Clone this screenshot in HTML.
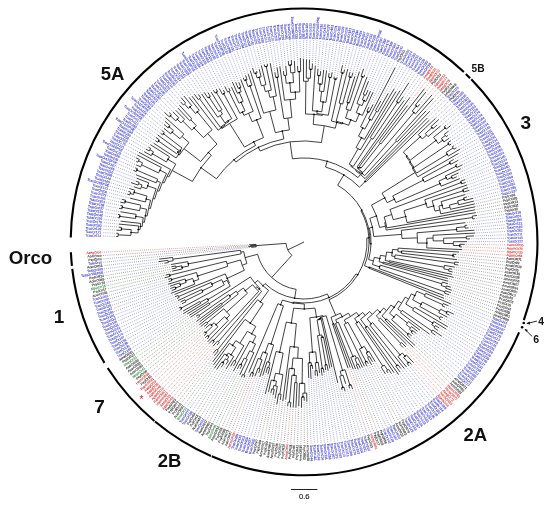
<!DOCTYPE html><html><head><meta charset="utf-8"><style>html,body{margin:0;padding:0;background:#fff;width:550px;height:508px;overflow:hidden}svg{display:block}</style></head><body><svg width="550" height="508" viewBox="0 0 550 508"><path d="M247.57 244.86L102.26 252.22M202.89 327.63L149.85 372.54M202.42 334.03L154.3 377.62M202.84 336.78L156.59 380.11M204.1 338.78L158.92 382.55M206.05 340.12L161.29 384.96M206.51 342.99L163.7 387.33M208.09 344.72L166.15 389.65M211.25 344.73L168.64 391.94M211.92 347.48L171.16 394.18M216.05 346.22L173.72 396.38M254.44 377.84L234.77 431.77M290.23 408.93L287.39 443.32M348.53 369.64L370.54 432.73M412.5 365.65L437.23 393.84M414.55 363.82L439.75 391.59M404.17 348.74L442.23 389.3M406.9 348.04L444.67 386.96M407.63 345.28L447.08 384.59M460.6 252.16L505.58 255.07M463.74 249.68L505.77 251.7M463.42 247L505.9 248.33M466.21 244.37L505.98 244.95M434.3 97.19L439.12 91.84M432.98 93.75L436.59 89.6M420.86 103.06L434.02 87.41M425.38 87.47L428.78 83.15M408.49 104.3L426.11 81.08M410.92 96.09L423.4 79.06" stroke="#e06a6a" stroke-width="0.8" stroke-dasharray="0.8 1.3" fill="none"/><path d="M248.63 245.73L102.46 255.59M246.7 246.83L102.71 258.96M157.64 259.28L103.39 265.68M169.41 264.78L104.83 275.71M169.81 267.02L105.42 279.03M170.25 269.26L106.07 282.35M164.21 275.4L107.53 288.94M163.08 278.17L108.34 292.22M187.88 316.25L133.82 350.82M189.14 318.18L135.66 353.65M196.09 318.89L139.49 359.22M195.11 322.36L141.47 361.95M198.46 322.65L143.5 364.65M199.49 327.55L147.69 369.95M204.33 329.31L152.05 375.1M212.25 354.49L176.32 398.53M213.46 356.87L178.96 400.65M211.85 363.02L181.63 402.71M212.5 366.43L184.33 404.74M225.13 365.82L195.48 412.37M225.16 370.46L198.34 414.16M229.7 367.74L201.23 415.9M232.55 372.69L207.1 419.24M236.68 370.19L210.08 420.84M239.43 370.11L213.08 422.38M240.73 378.72L219.16 425.32M243.32 379.09L222.24 426.71M248.18 374.04L225.34 428.06M249.07 378.23L228.46 429.34M251.72 378.19L231.61 430.58M268.06 393.59L257.4 438.55M270.49 394.68L260.69 439.3M272.74 396.74L264 440M274.8 400.1L267.31 440.64M276.54 406L270.64 441.23M280.04 401.42L273.98 441.76M282.57 402.81L277.32 442.23M285.49 401.15L280.67 442.65M287.53 407.79L284.03 443.01M293.02 409.14L290.76 443.57M295.82 409.3L294.13 443.76M298.67 407.77L297.51 443.9M301.42 409.33L300.88 443.98M304.21 402.33L304.26 444M306.9 403.24L307.64 443.97M353.07 390.61L367.34 433.81M350.73 369.08L373.72 431.59M353.77 370.65L376.88 430.39M356.15 370.4L380.02 429.15M367.77 367.71L395.38 422.15M369.05 365.09L398.38 420.6M372.31 366.19L401.35 418.99M414.52 348.52L449.44 382.18M416.29 346.66L451.77 379.73M411.67 339.04L454.05 377.24M445.17 296.06L492.64 314.24M450.62 295.35L493.82 311.07M452.31 293.18L494.95 307.89M453.29 290.74L496.03 304.69M452.33 287.7L497.05 301.47M449.38 284.14L498.01 298.23M449.7 281.6L498.93 294.98M449.28 278.89L499.79 291.72M455.04 277.68L500.59 288.44M453.64 274.72L501.34 285.14M454.15 272.21L502.03 281.84M453.8 269.54L502.67 278.52M456.32 267.38L503.25 275.2M459.97 265.31L503.78 271.86M460.37 262.7L504.25 268.52M458.47 259.83L504.67 265.16M456.42 257.02L505.03 261.81M457.78 254.56L505.33 258.44M478.45 215.17L503.65 211.3M477.32 212.37L503.11 207.96M476.66 209.51L502.51 204.64M476.88 206.46L501.86 201.33M476.27 203.57L501.15 198.02M430.56 118.98L448.85 101.21M430.9 110.12L444.06 96.44M427.03 109.79L441.61 94.12M426.76 90.99L431.42 85.26M396 66.11L397.62 63.01" stroke="#777777" stroke-width="0.8" stroke-dasharray="0.8 1.3" fill="none"/><path d="M249.78 247.48L103.02 262.32M156.96 261.85L103.82 269.03M162.95 263.45L104.3 272.37M166.59 279.73L109.21 295.48M167.24 282.02L110.13 298.73M166.45 284.76L111.11 301.97M168.65 286.57L112.14 305.18M168.83 289.03L113.22 308.38M170.22 291.07L114.36 311.56M169.4 293.94L115.54 314.72M173.12 295.04L116.79 317.86M173.49 297.45L118.08 320.98M175.54 299.13L119.43 324.08M176.56 301.24L120.83 327.15M179.12 302.61L122.28 330.2M180.48 304.52L123.78 333.23M177.42 308.76L125.33 336.23M178.21 311.05L126.93 339.21M181.72 311.81L128.58 342.15M181.89 314.45L130.27 345.07M185.94 314.74L132.02 347.96M215.79 370.77L189.84 408.65M220.37 368.57L192.64 410.53M232.7 367.39L204.15 417.6M258.15 374.5L237.95 432.9M259.34 378.4L241.15 433.97M262.26 377.09L244.37 435M265.53 374.31L247.6 435.97M267.48 375.9L250.86 436.88M264.91 395.39L254.12 437.74M308.78 379.58L311.01 443.88M311.14 380.66L314.39 443.73M312.77 370.47L317.76 443.53M315.5 377.11L321.13 443.27M317.85 377.89L324.49 442.96M319.77 374.63L327.84 442.59M322.37 377.2L331.2 442.16M324.23 374.28L334.54 441.68M326.02 371.45L337.87 441.14M328.43 372.39L341.2 440.55M330.18 369.91L344.51 439.9M332.14 368.64L347.81 439.19M338.2 384.63L351.1 438.43M342.49 391.45L354.38 437.62M345.56 392.88L357.65 436.75M346.05 385.27L360.89 435.82M350.11 389.87L364.13 434.84M358.86 370.84L383.14 427.85M360.92 369.72L386.23 426.5M363.14 368.94L389.31 425.1M365.13 367.69L392.36 423.65M373.23 363.03L404.3 417.34M375.87 362.92L407.21 415.64M386.27 375.28L410.1 413.89M388.64 374.12L412.96 412.09M392.31 374.91L415.79 410.25M394.89 373.95L418.59 408.35M399.57 375.89L421.35 406.41M401.12 373.36L424.09 404.43M401.76 369.71L426.78 402.4M405.15 369.66L429.45 400.32M407.42 368.13L432.08 398.2M410.19 367.18L434.67 396.04M412.94 336.94L456.29 374.71M414.51 335.1L458.48 372.15M417.59 334.49L460.64 369.55M418.81 332.34L462.75 366.91M421.19 331.08L464.82 364.24M430.89 335.15L466.84 361.53M436.76 336.08L468.81 358.79M443.09 337.11L470.74 356.02M439.48 331.36L472.63 353.22M440.59 328.85L474.46 350.38M447.68 330.02L476.25 347.52M449.13 327.6L477.99 344.62M442.55 320.63L479.68 341.7M444.21 318.5L481.32 338.75M448.75 317.86L482.92 335.77M450.94 315.91L484.46 332.77M455.18 314.9L485.95 329.74M446.28 307.7L487.39 326.68M449.92 306.44L488.78 323.61M452.74 304.74L490.12 320.5M445.42 298.88L491.41 317.38M468.49 241.65L506 241.57M471.48 238.85L505.96 238.2M475.53 235.9L505.87 234.82M476.73 232.96L505.72 231.45M475.98 230.12L505.52 228.08M470.13 227.73L505.26 224.71M468.77 225.06L504.94 221.35M466.94 222.49L504.57 217.99M476.32 218.44L504.14 214.64M475.6 200.7L500.39 194.73M474.89 197.84L499.57 191.46M468.36 196.58L498.7 188.19M466.81 194.06L497.78 184.95M470.83 189.83L496.79 181.71M469.49 187.2L495.76 178.5M468.57 184.43L494.67 175.3M467.09 181.87L493.53 172.12M466.57 178.96L492.33 168.97M461.24 177.98L491.09 165.83M458.19 176.19L489.79 162.71M460 172.31L488.44 159.61M462.12 168.17L487.03 156.54M463.98 164.02L485.58 153.49M458.8 163.32L484.07 150.47M459.67 159.57L482.52 147.47M454.98 158.79L480.91 144.5M459.86 152.67L479.26 141.56M461.5 148.21L477.55 138.64M457.84 146.86L475.8 135.75M455.39 144.84L474 132.9M452.51 143.14L472.15 130.07M452.1 139.81L470.26 127.27M450.42 137.31L468.32 124.51M449.24 134.44L466.33 121.78M449.83 130.18L464.3 119.08M451.88 124.63L462.22 116.42M447.17 124.41L460.1 113.79M441.73 124.97L457.93 111.2M438.23 124.02L455.73 108.65M439.98 118.39L453.47 106.13M436.5 117.45L451.18 103.65M428.49 116.88L446.47 98.8M405.09 99.1L420.66 77.09M404.15 95.28L417.88 75.16M409.71 81.44L415.08 73.28M401 89.16L412.24 71.45M396.85 90.15L409.38 69.66M395.07 87.32L406.48 67.93M389 91.93L403.56 66.24M381.52 99.65L400.6 64.6M373.79 102.96L394.62 61.47M369.71 105.45L391.59 59.98M373.68 90.78L388.53 58.54M371.14 89.64L385.45 57.15M368.58 88.53L382.35 55.81M369.12 79.72L379.23 54.53M367.67 75.33L376.08 53.3M365.21 73.35L372.92 52.12M364.13 67.29L369.73 50.99M359.94 70.17L366.53 49.92M355.33 74.87L363.31 48.9M353.34 71.25L360.07 47.94M350.42 70.65L356.82 47.03M348.12 67.64L353.55 46.17M344.92 68.11L350.27 45.37M342.8 63.82L346.98 44.63M337.29 75.8L343.67 43.93M334.55 75.04L340.36 43.3M332.39 70.74L337.03 42.72M329.33 71.57L333.69 42.19M326.77 68.94L330.35 41.73M323.89 68.39L327 41.31M320.84 69.59L323.64 40.96M318.14 67.08L320.28 40.66M315.39 64.09L316.91 40.41M312.51 61.96L313.53 40.23M309.61 58.09L310.16 40.09M306.54 57.81L306.78 40.02M303.46 57.23L303.41 40M300.35 56.45L300.03 40.04M297.53 64.35L296.65 40.13M294.29 59.31L293.28 40.28M291.16 58.39L289.91 40.49M288.16 59.37L286.54 40.76M285.59 64.31L283.18 41.08M283.21 69.54L279.82 41.45M279.63 64.84L276.47 41.88M276.77 65.88L273.13 42.37M274.59 70.81L269.8 42.92M269.91 61.69L266.47 43.52M266.9 62.29L263.16 44.17M263.9 62.93L259.86 44.88M261.01 64.03L256.57 45.65M258.81 67.73L253.29 46.47M256.17 69.46L250.03 47.34M252.2 66.59L246.79 48.27M249.81 69.19L243.55 49.26M247.68 72.39L240.34 50.29M245.08 74.01L237.14 51.38M242.78 76.37L233.97 52.53M240.23 77.95L230.81 53.73M238.23 80.85L227.67 54.98M235.08 80.88L224.56 56.28M231.78 80.68L221.46 57.63M230.77 85.49L218.39 59.04M228.05 86.5L215.34 60.49M224.08 85.08L212.32 62M222.68 88.74L209.33 63.56M218.51 87.18L206.36 65.17M215.36 87.64L203.41 66.83M212.6 88.82L200.5 68.53M210.36 90.87L197.61 70.29M207.06 91.23L194.76 72.09M203.32 91.02L191.93 73.94M200.74 92.62L189.14 75.84M197.41 93.18L186.37 77.78M193.48 93.02L183.65 79.77M191 94.89L180.95 81.8M187.99 96.08L178.29 83.88M182.89 94.79L175.66 86.01M180.04 96.36L173.07 88.17M179.58 100.67L170.52 90.39M178.41 104.06L168 92.64M176.76 106.87L165.53 94.93M174.68 109.18L163.09 97.27M171.75 110.63L160.69 99.64M168.08 111.43L158.33 102.06M163.25 111.25L156.01 104.52M164.32 116.52L153.73 107.01M163.8 120.23L151.49 109.54M162.92 123.54L149.3 112.11M162.69 127.32L147.15 114.71M160.46 129.44L145.04 117.35M159.32 132.41L142.98 120.03M156.37 134.01L140.97 122.74M154.65 136.53L138.99 125.48M154.01 139.8L137.07 128.25M152.32 142.32L135.19 131.06M149.05 143.84L133.36 133.9M147.15 146.27L131.58 136.77M144.58 148.33L129.84 139.66M142.8 150.87L128.15 142.59M137.74 151.64L126.52 145.54M136.01 154.31L124.93 148.52M134.57 157.13L123.39 151.53M134.89 160.8L121.9 154.56M134.77 164.2L120.47 157.62M133.8 167.17L119.08 160.7M131.95 169.76L117.75 163.8M134.56 174.17L116.47 166.93M135.15 177.66L115.24 170.07M134.28 180.56L114.06 173.24M129.62 182.15L112.94 176.42M132.32 186.27L111.87 179.63M127.84 188.05L110.85 182.85M126.91 190.99L109.89 186.09M125.92 193.91L108.98 189.34M128.4 197.72L108.13 192.61M120.29 198.93L107.33 195.89M118.81 201.83L106.59 199.18M118.92 205.09L105.9 202.49M117.57 208.05L105.27 205.81M118.92 211.48L104.69 209.13M116.54 214.3L104.17 212.47M116.1 217.44L103.7 215.82M119.07 220.96L103.29 219.17M117.18 223.91L102.94 222.53M117.09 227.05L102.64 225.89M114.88 230.05L102.4 229.26M114.7 233.21L102.22 232.63M114.58 236.38L102.09 236.01" stroke="#7b7bbf" stroke-width="0.8" stroke-dasharray="0.8 1.3" fill="none"/><path d="M170.73 271.5L106.77 285.65M194.81 317.08L137.55 356.45M198.09 325.78L145.57 367.32M213.41 369.61L187.07 406.72M239.07 376.37L216.11 423.88" stroke="#5a9a5a" stroke-width="0.8" stroke-dasharray="0.8 1.3" fill="none"/><path d="M304 242L287.82 249.89M286.05 243.36A18 18 0 0 0 291.88 255.31M286.05 243.36L256.14 245.63M256.06 244.43A48 48 0 0 0 256.24 246.83M256.06 244.43L249.07 244.78M256.11 245.23L250.12 245.63M256.17 246.03L248.2 246.7M256.24 246.83L251.27 247.33M291.88 255.31L271.68 277.49M257.6 254.29A48 48 0 0 0 296.11 289.35M257.6 254.29L245.03 257.61M243.76 251.61A61 61 0 0 0 246.9 263.45M243.76 251.61L240.8 252.09M240.54 250.3A64 64 0 0 0 241.11 253.86M240.54 250.3L172.89 259.15M172.68 257.5A132.23 132.23 0 0 0 173.11 260.79M172.68 257.5L159.13 259.1M173.11 260.79L168.11 261.51M167.95 260.37A137.28 137.28 0 0 0 168.28 262.64M167.95 260.37L158.45 261.65M168.28 262.64L164.44 263.23M241.11 253.86L188.25 263.84M187.86 261.66A117.79 117.79 0 0 0 188.68 266.01M187.86 261.66L170.89 264.53M188.68 266.01L182.08 267.38M181.78 265.85A124.53 124.53 0 0 0 182.41 268.91M181.78 265.85L175.9 267M175.7 265.93A130.51 130.51 0 0 0 176.12 268.07M175.7 265.93L171.29 266.75M176.12 268.07L171.72 268.96M182.41 268.91L172.19 271.17M246.9 263.45L242.22 265.21M240.5 259.99A66 66 0 0 0 244.36 270.28M240.5 259.99L227.03 263.81M226.35 261.24A80 80 0 0 0 227.79 266.35M226.35 261.24L169.86 275.24M169.59 274.11A138.2 138.2 0 0 0 170.14 276.36M169.59 274.11L165.67 275.05M170.14 276.36L164.53 277.8M227.79 266.35L197.56 276.01M196.5 272.48A111.74 111.74 0 0 0 198.74 279.49M196.5 272.48L171.63 279.54M171.32 278.43A137.59 137.59 0 0 0 171.95 280.64M171.32 278.43L168.03 279.33M171.95 280.64L168.68 281.6M198.74 279.49L193.66 281.3M192.67 278.41A117.13 117.13 0 0 0 194.72 284.17M192.67 278.41L185.66 280.7M185.11 278.96A124.5 124.5 0 0 0 186.24 282.42M185.11 278.96L167.88 284.32M186.24 282.42L180.22 284.49M179.7 282.93A130.87 130.87 0 0 0 180.76 286.04M179.7 282.93L170.07 286.1M180.76 286.04L175.56 287.9M175.18 286.82A136.4 136.4 0 0 0 175.94 288.97M175.18 286.82L170.24 288.54M175.94 288.97L171.62 290.56M194.72 284.17L170.8 293.4M244.36 270.28L227.2 278.42M225.22 273.92A85 85 0 0 0 229.42 282.79M225.22 273.92L174.51 294.47M229.42 282.79L228.55 283.27M226.99 280.28A86 86 0 0 0 230.22 286.19M226.99 280.28L222.95 282.28M221.69 279.64A90.5 90.5 0 0 0 224.3 284.89M221.69 279.64L211.95 284.09M211.18 282.35A101.22 101.22 0 0 0 212.76 285.82M211.18 282.35L178.64 296.5M178.19 295.45A136.69 136.69 0 0 0 179.1 297.54M178.19 295.45L174.87 296.86M179.1 297.54L176.91 298.52M212.76 285.82L202.39 290.79M201.79 289.52A112.72 112.72 0 0 0 203.01 292.06M201.79 289.52L177.92 300.61M203.01 292.06L185.43 300.78M184.94 299.79A132.34 132.34 0 0 0 185.93 301.77M184.94 299.79L180.47 301.96M185.93 301.77L181.82 303.85M224.3 284.89L181.2 308.08M180.66 307.05A139.45 139.45 0 0 0 181.76 309.1M180.66 307.05L178.74 308.06M181.76 309.1L179.52 310.33M230.22 286.19L207.89 299.57M207.18 298.36A112.03 112.03 0 0 0 208.62 300.77M207.18 298.36L200.3 302.36M199.8 301.49A119.99 119.99 0 0 0 200.81 303.22M199.8 301.49L183.02 311.07M200.81 303.22L183.18 313.68M208.62 300.77L187.22 313.95M296.11 289.35L294.63 298.22M265 283.57A57 57 0 0 0 327.41 293.97M265 283.57L262.95 285.76M257.88 280.38A60 60 0 0 0 268.64 290.47M257.88 280.38L254.81 282.94M250.37 276.93A64 64 0 0 0 259.91 288.39M250.37 276.93L209.42 303.6M208.9 302.81A112.88 112.88 0 0 0 209.93 304.39M208.9 302.81L189.14 315.44M209.93 304.39L190.39 317.35M259.91 288.39L259.22 289.12M256.9 286.79A65 65 0 0 0 261.67 291.32M256.9 286.79L255.54 288.08M252.53 284.7A66.87 66.87 0 0 0 258.77 291.26M252.53 284.7L245.34 290.66M243.25 288.02A76.22 76.22 0 0 0 247.54 293.2M243.25 288.02L237.21 292.6M236.17 291.19A83.79 83.79 0 0 0 238.28 293.98M236.17 291.19L229.77 295.83M228.88 294.59A91.7 91.7 0 0 0 230.68 297.07M228.88 294.59L198.99 315.51M198.38 314.63A128.18 128.18 0 0 0 199.61 316.38M198.38 314.63L196.05 316.23M199.61 316.38L197.31 318.02M230.68 297.07L221.7 303.81M221.19 303.12A102.92 102.92 0 0 0 222.22 304.49M221.19 303.12L196.32 321.47M222.22 304.49L199.65 321.74M238.28 293.98L199.27 324.85M247.54 293.2L226.7 312.1M223.81 308.77A104.35 104.35 0 0 0 229.74 315.31M223.81 308.77L206.99 322.77M206.32 321.96A126.23 126.23 0 0 0 207.67 323.58M206.32 321.96L200.65 326.6M207.67 323.58L204.03 326.66M229.74 315.31L226.55 318.46M224.73 316.58A108.84 108.84 0 0 0 228.4 320.3M224.73 316.58L216 324.79M214.12 322.75A120.82 120.82 0 0 0 217.93 326.79M214.12 322.75L211.44 325.16M210.4 323.99A124.43 124.43 0 0 0 212.49 326.31M210.4 323.99L205.46 328.32M212.49 326.31L205.84 332.44M205.09 331.61A133.47 133.47 0 0 0 206.6 333.26M205.09 331.61L203.53 333.02M206.6 333.26L203.93 335.75M217.93 326.79L208.37 336.21M207.58 335.41A134.24 134.24 0 0 0 209.16 337.01M207.58 335.41L205.18 337.74M209.16 337.01L207.11 339.06M228.4 320.3L207.55 341.91M258.77 291.26L213.43 340.65M212.61 339.89A133.92 133.92 0 0 0 214.26 341.4M212.61 339.89L209.12 343.63M214.26 341.4L212.26 343.62M261.67 291.32L218.42 341.71M217.59 340.99A131.4 131.4 0 0 0 219.26 342.42M217.59 340.99L212.91 346.35M219.26 342.42L217.02 345.08M268.64 290.47L260.39 301.78M257.71 299.73A74 74 0 0 0 263.16 303.71M257.71 299.73L217.29 350.14M216.39 349.41A138.61 138.61 0 0 0 218.2 350.86M216.39 349.41L213.19 353.33M218.2 350.86L214.39 355.69M263.16 303.71L250.31 323.13M245.06 319.4A97.29 97.29 0 0 0 255.79 326.5M245.06 319.4L212.76 361.83M255.79 326.5L251.64 333.78M247.44 331.26A105.67 105.67 0 0 0 255.95 336.11M247.44 331.26L239.84 343.25M235.89 340.64A119.87 119.87 0 0 0 243.88 345.71M235.89 340.64L232.59 345.42M229.55 343.25A125.68 125.68 0 0 0 235.7 347.5M229.55 343.25L213.39 365.23M235.7 347.5L230.98 354.8M228.29 353.01A134.37 134.37 0 0 0 233.71 356.52M228.29 353.01L226.66 355.41M224.54 353.93A137.27 137.27 0 0 0 228.81 356.84M224.54 353.93L214.28 368.39M228.81 356.84L226.9 359.76M225.43 358.78A140.75 140.75 0 0 0 228.38 360.71M225.43 358.78L223 362.38M222 361.7A145.09 145.09 0 0 0 224.01 363.06M222 361.7L216.64 369.53M224.01 363.06L221.19 367.32M228.38 360.71L225.93 364.55M233.71 356.52L225.95 369.18M243.88 345.71L235.04 360.95M234.05 360.37A137.49 137.49 0 0 0 236.04 361.52M234.05 360.37L230.46 366.45M236.04 361.52L233.45 366.08M255.95 336.11L252.66 342.55M249.85 341.06A112.89 112.89 0 0 0 255.52 343.95M249.85 341.06L233.27 371.37M255.52 343.95L251.8 351.77M249.75 350.77A121.55 121.55 0 0 0 253.87 352.74M249.75 350.77L245.78 358.71M244.33 357.97A130.43 130.43 0 0 0 247.25 359.43M244.33 357.97L240.97 364.5M239.94 363.97A137.77 137.77 0 0 0 241.99 365.03M239.94 363.97L237.38 368.86M241.99 365.03L240.11 368.77M247.25 359.43L239.72 375.02M253.87 352.74L243.79 375.01M242.68 374.51A146.01 146.01 0 0 0 244.9 375.51M242.68 374.51L241.36 377.36M244.9 375.51L243.93 377.71M327.41 293.97L329.05 297.62M293.34 302.06A61 61 0 0 0 356.04 273.82M293.34 302.06L293.16 303.05M282.39 300.11A62 62 0 0 0 304.29 304M282.39 300.11L280.64 304.8M277.91 303.71A67 67 0 0 0 283.42 305.76M277.91 303.71L248.76 372.66M283.42 305.76L271.07 344.03M268.52 343.18A107.22 107.22 0 0 0 273.64 344.83M268.52 343.18L265.2 352.63M262.9 351.8A117.24 117.24 0 0 0 267.52 353.42M262.9 351.8L260.16 359.12M258.21 358.37A125.06 125.06 0 0 0 262.12 359.84M258.21 358.37L252.53 372.81M251.43 372.37A140.57 140.57 0 0 0 253.62 373.23M251.43 372.37L249.63 376.83M253.62 373.23L252.25 376.79M262.12 359.84L259.04 368.51M257.98 368.13A134.26 134.26 0 0 0 260.1 368.88M257.98 368.13L254.96 376.43M260.1 368.88L258.64 373.09M267.52 353.42L259.81 376.98M273.64 344.83L268.51 362.2M267 361.74A125.33 125.33 0 0 0 270.02 362.63M267 361.74L262.7 375.65M270.02 362.63L268.63 367.57M267.58 367.27A130.46 130.46 0 0 0 269.68 367.87M267.58 367.27L265.95 372.87M269.68 367.87L267.88 374.46M304.29 304L304.31 309M293.63 308.19A67 67 0 0 0 314.98 308.09M293.63 308.19L291.3 323.01M286.29 322.07A82 82 0 0 0 296.36 323.64M286.29 322.07L279.61 352.28M276.11 351.45A112.95 112.95 0 0 0 283.14 353M276.11 351.45L265.28 393.94M283.14 353L279.2 373.98M275.48 373.23A134.29 134.29 0 0 0 282.93 374.63M275.48 373.23L273.88 380.59M271.28 380A141.82 141.82 0 0 0 276.5 381.13M271.28 380L268.41 392.13M276.5 381.13L275.55 385.93M273.75 385.56A146.71 146.71 0 0 0 277.35 386.27M273.75 385.56L272.99 389.15M271.76 388.89A150.38 150.38 0 0 0 274.22 389.41M271.76 388.89L270.81 393.22M274.22 389.41L273.03 395.27M277.35 386.27L275.07 398.62M282.93 374.63L279.83 394.14M278.56 393.94A154.05 154.05 0 0 0 281.1 394.34M278.56 393.94L276.79 404.52M281.1 394.34L280.26 399.94M296.36 323.64L294.18 346.95M290.08 346.48A105.41 105.41 0 0 0 298.3 347.25M290.08 346.48L282.77 401.32M298.3 347.25L297.7 358.3M292.97 357.95A116.47 116.47 0 0 0 302.45 358.46M292.97 357.95L291.96 368.58M289.31 368.3A127.16 127.16 0 0 0 294.61 368.81M289.31 368.3L285.67 399.66M294.61 368.81L294.12 375.31M291.9 375.13A133.68 133.68 0 0 0 296.35 375.46M291.9 375.13L289.43 402.2M288.1 402.08A160.86 160.86 0 0 0 290.77 402.32M288.1 402.08L287.68 406.29M290.77 402.32L290.35 407.44M296.35 375.46L295.94 382.67M294.76 382.6A140.91 140.91 0 0 0 297.12 382.74M294.76 382.6L293.12 407.64M297.12 382.74L295.89 407.8M302.45 358.46L302.11 383.34M299.46 383.28A141.36 141.36 0 0 0 304.77 383.35M299.46 383.28L298.72 406.27M304.77 383.35L304.83 393.08M302.93 393.08A151.08 151.08 0 0 0 306.72 393.06M302.93 393.08L302.9 396.88M301.61 396.86A154.88 154.88 0 0 0 304.2 396.88M301.61 396.86L301.44 407.83M304.2 396.88L304.2 400.83M306.72 393.06L306.88 401.74M314.98 308.09L316.46 316.97M309.81 317.78A76 76 0 0 0 323.01 315.58M309.81 317.78L312.44 352.14M309.22 352.34A110.47 110.47 0 0 0 315.66 351.85M309.22 352.34L309.71 362.72M308.2 362.78A120.86 120.86 0 0 0 311.22 362.64M308.2 362.78L308.73 378.08M311.22 362.64L311.39 365.44M310.36 365.5A123.67 123.67 0 0 0 312.42 365.38M310.36 365.5L311.06 379.16M312.42 365.38L312.67 368.97M315.66 351.85L316.8 362.53M315.29 362.68A121.21 121.21 0 0 0 318.31 362.36M315.29 362.68L316.03 370.68M314.96 370.78A129.24 129.24 0 0 0 317.11 370.57M314.96 370.78L315.37 375.62M317.11 370.57L317.7 376.4M318.31 362.36L319.59 373.14M323.01 315.58L323.26 316.55M320.35 317.24A77 77 0 0 0 326.15 315.75M320.35 317.24L320.56 318.22M318.92 318.56A78 78 0 0 0 322.19 317.85M318.92 318.56L319.11 319.54M317.08 319.91A79 79 0 0 0 321.14 319.12M317.08 319.91L319.67 335.28M317.52 335.62A94.59 94.59 0 0 0 321.81 334.9M317.52 335.62L322.25 368.37M321.19 368.52A127.68 127.68 0 0 0 323.3 368.21M321.19 368.52L322.17 375.71M323.3 368.21L324 372.8M321.81 334.9L322.24 337.16M321.04 337.38A96.89 96.89 0 0 0 323.43 336.92M321.04 337.38L325.95 364.81M324.92 364.99A124.76 124.76 0 0 0 326.97 364.62M324.92 364.99L325.77 369.98M326.97 364.62L328.15 370.92M323.43 336.92L329.88 368.44M321.14 319.12L331.81 367.18M322.19 317.85L337.85 383.17M326.15 315.75L342.58 370.44M340.16 371.15A134.11 134.11 0 0 0 344.99 369.7M340.16 371.15L341.42 375.66M339.74 376.12A138.8 138.8 0 0 0 343.09 375.18M339.74 376.12L342.75 387.4M341.53 387.72A150.47 150.47 0 0 0 343.96 387.07M341.53 387.72L342.12 390M343.96 387.07L345.16 391.43M343.09 375.18L345.63 383.83M344.99 369.7L349.92 385.06M348.72 385.44A150.25 150.25 0 0 0 351.11 384.67M348.72 385.44L349.66 388.44M351.11 384.67L352.6 389.18M356.04 273.82L357.75 274.86M329.01 299.82A63 63 0 0 0 366.87 237.91M329.01 299.82L335.76 315.42M330.98 317.31A80 80 0 0 0 340.41 313.23M330.98 317.31L333.33 323.86M332.64 324.11A86.96 86.96 0 0 0 334.01 323.62M332.64 324.11L348.03 368.22M334.01 323.62L350.21 367.67M340.41 313.23L342.19 316.72M335.66 319.71A83.92 83.92 0 0 0 348.44 313.18M335.66 319.71L336.94 322.86M335.5 323.43A87.31 87.31 0 0 0 338.37 322.26M335.5 323.43L353.23 369.25M338.37 322.26L353.02 356.45M350.86 357.36A124.51 124.51 0 0 0 355.16 355.51M350.86 357.36L355.59 369.01M355.16 355.51L356.4 358.26M354.94 358.91A127.52 127.52 0 0 0 357.85 357.59M354.94 358.91L357.32 364.39M356.3 364.83A133.5 133.5 0 0 0 358.35 363.94M356.3 364.83L358.27 369.46M358.35 363.94L360.31 368.35M357.85 357.59L362.51 367.58M348.44 313.18L350.52 316.5M344.31 320.04A87.83 87.83 0 0 0 356.42 312.47M344.31 320.04L346.04 323.4M344.07 324.39A91.61 91.61 0 0 0 347.98 322.36M344.07 324.39L364.48 366.34M347.98 322.36L361.85 347.7M359.41 349A120.5 120.5 0 0 0 364.27 346.34M359.41 349L365.94 361.63M364.94 362.14A134.71 134.71 0 0 0 366.94 361.1M364.94 362.14L367.09 366.38M366.94 361.1L368.34 363.76M364.27 346.34L367.54 352.01M366.15 352.8A127.04 127.04 0 0 0 368.91 351.2M366.15 352.8L368.56 357.09M367.6 357.62A131.96 131.96 0 0 0 369.52 356.54M367.6 357.62L371.58 364.87M369.52 356.54L372.49 361.73M368.91 351.2L375.11 361.63M356.42 312.47L358.76 315.62M354.62 318.52A91.75 91.75 0 0 0 362.74 312.49M354.62 318.52L357.2 322.43M355.68 323.42A96.44 96.44 0 0 0 358.7 321.42M355.68 323.42L382.76 366.08M381.19 367.06A146.96 146.96 0 0 0 384.31 365.08M381.19 367.06L385.48 374M384.31 365.08L387.57 370.09M386.5 370.78A152.94 152.94 0 0 0 388.64 369.38M386.5 370.78L387.83 372.86M388.64 369.38L391.48 373.66M358.7 321.42L394.04 372.71M362.74 312.49L365.24 315.49M360.55 319.16A95.67 95.67 0 0 0 369.7 311.54M360.55 319.16L366.25 326.95M365.18 327.72A105.32 105.32 0 0 0 367.31 326.16M365.18 327.72L398.7 374.67M367.31 326.16L396.87 365.44M395.83 366.22A154.48 154.48 0 0 0 397.9 364.66M395.83 366.22L400.23 372.16M397.9 364.66L400.85 368.52M369.7 311.54L372.39 314.39M367.22 318.94A99.58 99.58 0 0 0 377.23 309.49M367.22 318.94L371.16 323.74M369.7 324.92A105.79 105.79 0 0 0 372.6 322.53M369.7 324.92L404.22 368.48M372.6 322.53L400.1 354.81M397.96 356.6A148.2 148.2 0 0 0 402.21 352.99M397.96 356.6L406.47 366.97M402.21 352.99L405.01 356.16M403.57 357.41A152.43 152.43 0 0 0 406.44 354.88M403.57 357.41L408.17 362.74M407.16 363.6A159.46 159.46 0 0 0 409.17 361.86M407.16 363.6L409.22 366.04M409.17 361.86L411.51 364.52M406.44 354.88L413.54 362.71M377.23 309.49L380.11 312.14M376.39 315.97A103.5 103.5 0 0 0 383.63 308.12M376.39 315.97L379.46 319.12M378.49 320.06A107.89 107.89 0 0 0 380.42 318.16M378.49 320.06L400.73 343.36M399.88 344.17A140.11 140.11 0 0 0 401.58 342.55M399.88 344.17L403.14 347.65M401.58 342.55L405.86 346.96M380.42 318.16L406.57 344.22M383.63 308.12L386.64 310.62M381.96 315.89A107.42 107.42 0 0 0 390.96 305.05M381.96 315.89L385.86 319.59M385.21 320.27A112.79 112.79 0 0 0 386.51 318.9M385.21 320.27L413.44 347.48M386.51 318.9L415.19 345.64M390.96 305.05L394.13 307.35M389.52 313.29A111.33 111.33 0 0 0 398.34 301.12M389.52 313.29L393.97 316.99M391.65 319.68A117.12 117.12 0 0 0 396.2 314.23M391.65 319.68L407.94 334.12M407.16 334.98A138.88 138.88 0 0 0 408.7 333.24M407.16 334.98L410.55 338.04M408.7 333.24L411.81 335.95M396.2 314.23L407.41 323.02M406.21 324.52A131.37 131.37 0 0 0 408.58 321.5M406.21 324.52L410.44 327.93M409.35 329.26A136.8 136.8 0 0 0 411.51 326.59M409.35 329.26L411.84 331.32M411.09 332.22A140.03 140.03 0 0 0 412.58 330.42M411.09 332.22L413.36 334.13M412.58 330.42L416.42 333.54M411.51 326.59L417.64 331.41M408.58 321.5L419.99 330.17M398.34 301.12L401.66 303.2M397.75 309.03A115.25 115.25 0 0 0 405.2 297.15M397.75 309.03L401.32 311.58M400.44 312.79A119.63 119.63 0 0 0 402.18 310.35M400.44 312.79L429.68 334.26M402.18 310.35L431.94 331.06M431.19 332.13A155.88 155.88 0 0 0 432.68 329.99M431.19 332.13L435.53 335.21M432.68 329.99L441.85 336.27M405.2 297.15L408.64 299.02M405.75 304.04A119.17 119.17 0 0 0 411.28 293.87M405.75 304.04L413.5 308.76M412.51 310.36A128.25 128.25 0 0 0 414.46 307.16M412.51 310.36L432.75 323.11M431.73 324.72A152.17 152.17 0 0 0 433.76 321.49M431.73 324.72L434.74 326.67M434.03 327.76A155.76 155.76 0 0 0 435.44 325.58M434.03 327.76L438.23 330.53M435.44 325.58L439.33 328.05M433.76 321.49L446.4 329.24M414.46 307.16L447.84 326.84M411.28 293.87L414.81 295.58M412.66 299.82A123.08 123.08 0 0 0 416.8 291.25M412.66 299.82L421.04 304.28M419.84 306.47A132.57 132.57 0 0 0 422.19 302.07M419.84 306.47L439.98 317.67M439.34 318.81A155.62 155.62 0 0 0 440.6 316.53M439.34 318.81L441.24 319.89M440.6 316.53L442.89 317.78M422.19 302.07L439.67 310.95M438.79 312.65A152.18 152.18 0 0 0 440.52 309.24M438.79 312.65L447.42 317.17M440.52 309.24L446.6 312.24M446 313.43A158.96 158.96 0 0 0 447.18 311.04M446 313.43L449.6 315.24M447.18 311.04L453.83 314.25M416.8 291.25L425.06 294.86M424.39 296.37A132.09 132.09 0 0 0 425.71 293.34M424.39 296.37L442.67 304.63M442.14 305.79A152.15 152.15 0 0 0 443.19 303.47M442.14 305.79L444.92 307.07M443.19 303.47L448.55 305.84M425.71 293.34L451.36 304.15M366.87 237.91L368.86 237.78M364.51 265.75A65 65 0 0 0 360.92 210.61M364.51 265.75L369.16 267.58M368.94 268.12A70 70 0 0 0 369.37 267.03M368.94 268.12L444.03 298.33M369.37 267.03L443.77 295.52M360.92 210.61L361.79 210.12M369.98 243.8A66 66 0 0 0 337.67 185.23M369.98 243.8L370.98 243.83M368.64 259.62A67 67 0 0 0 369.51 227.93M368.64 259.62L373.46 260.94M372.4 264.49A72 72 0 0 0 374.35 257.34M372.4 264.49L379.6 266.86M379.01 268.59A79.59 79.59 0 0 0 380.16 265.11M379.01 268.59L444.94 291.95M444.51 293.13A149.53 149.53 0 0 0 445.35 290.77M444.51 293.13L449.21 294.84M445.35 290.77L450.89 292.69M380.16 265.11L441.8 283.82M441.26 285.55A144.01 144.01 0 0 0 442.31 282.09M441.26 285.55L446.11 287.08M445.73 288.27A149.09 149.09 0 0 0 446.49 285.89M445.73 288.27L451.86 290.27M446.49 285.89L450.9 287.25M442.31 282.09L447.94 283.72M374.35 257.34L379.82 258.53M379.05 261.73A77.6 77.6 0 0 0 380.45 255.31M379.05 261.73L382.84 262.72M382.67 263.38A81.52 81.52 0 0 0 383.01 262.06M382.67 263.38L448.25 281.21M383.01 262.06L447.83 278.52M380.45 255.31L385.97 256.27M385.13 260.45A83.2 83.2 0 0 0 386.59 252.06M385.13 260.45L389.26 261.39M389.1 262.1A87.44 87.44 0 0 0 389.42 260.68M389.1 262.1L453.58 277.33M389.42 260.68L452.18 274.4M386.59 252.06L392.15 252.74M391.68 256.04A88.8 88.8 0 0 0 392.49 249.41M391.68 256.04L394.94 256.56M394.65 258.27A92.1 92.1 0 0 0 395.2 254.85M394.65 258.27L444.18 267.16M443.85 268.92A142.42 142.42 0 0 0 444.48 265.4M443.85 268.92L448.85 269.88M448.61 271.09A147.51 147.51 0 0 0 449.08 268.67M448.61 271.09L452.68 271.91M449.08 268.67L452.32 269.27M444.48 265.4L454.84 267.13M395.2 254.85L454.57 263.22M454.39 264.48A152.06 152.06 0 0 0 454.75 261.96M454.39 264.48L458.48 265.09M454.75 261.96L458.88 262.51M392.49 249.41L398.07 249.88M397.91 251.65A94.4 94.4 0 0 0 398.2 248.11M397.91 251.65L401.57 252.02M401.43 253.25A98.08 98.08 0 0 0 401.68 250.8M401.43 253.25L456.98 259.66M401.68 250.8L452.92 255.42M452.81 256.66A149.53 149.53 0 0 0 453.03 254.17M452.81 256.66L454.92 256.87M453.03 254.17L456.28 254.44M398.2 248.11L459.1 252.06M369.51 227.93L372.44 227.3M373.79 236.56A70 70 0 0 0 369.87 218.3M373.79 236.56L401.7 234.39M401.94 238.44A98 98 0 0 0 401.31 230.35M401.94 238.44L417.35 237.88M417.42 243A113.43 113.43 0 0 0 417.05 232.76M417.42 243L426.87 243.09M426.74 247.9A122.88 122.88 0 0 0 426.82 238.27M426.74 247.9L462.24 249.61M426.82 238.27L433.12 238.08M433.17 240.92A129.18 129.18 0 0 0 433 235.25M433.17 240.92L443.71 240.83M443.71 243.46A139.72 139.72 0 0 0 443.67 238.2M443.71 243.46L453.32 243.56M453.29 245.43A149.33 149.33 0 0 0 453.32 241.68M453.29 245.43L459.71 245.58M459.68 246.88A155.75 155.75 0 0 0 459.74 244.28M459.68 246.88L461.92 246.95M459.74 244.28L464.71 244.35M453.32 241.68L466.99 241.66M443.67 238.2L466.36 237.58M466.39 238.94A162.42 162.42 0 0 0 466.31 236.23M466.39 238.94L469.98 238.87M466.31 236.23L474.03 235.95M433 235.25L475.23 233.04M417.05 232.76L456.59 229.53M456.74 231.45A153.1 153.1 0 0 0 456.42 227.62M456.74 231.45L474.48 230.22M456.42 227.62L465.03 226.81M465.15 228.15A161.75 161.75 0 0 0 464.9 225.46M465.15 228.15L468.63 227.85M464.9 225.46L467.28 225.22M401.31 230.35L465.45 222.67M369.87 218.3L376.45 215.93M379.61 227.44A77 77 0 0 0 371.55 205.05M379.61 227.44L385.5 226.3M386.14 230.07A83 83 0 0 0 384.69 222.57M386.14 230.07L472.46 217.53M472.66 218.94A170.22 170.22 0 0 0 472.25 216.13M472.66 218.94L474.84 218.65M472.25 216.13L476.97 215.4M384.69 222.57L385.67 222.34M386.8 227.85A84 84 0 0 0 384.17 216.91M386.8 227.85L475.85 212.62M384.17 216.91L391.74 214.54M393.19 219.7A91.93 91.93 0 0 0 389.99 209.48M393.19 219.7L405.71 216.57M407.03 222.61A104.84 104.84 0 0 0 404.03 210.62M407.03 222.61L475.18 209.78M404.03 210.62L426.08 203.7M427.26 207.69A127.94 127.94 0 0 0 424.77 199.75M427.26 207.69L433.64 205.92M434.97 211.13A134.56 134.56 0 0 0 432.09 200.77M434.97 211.13L439.88 209.97M440.74 213.89A139.6 139.6 0 0 0 438.9 206.08M440.74 213.89L475.42 206.76M438.9 206.08L442.11 205.23M443.02 208.85A142.92 142.92 0 0 0 441.1 201.63M443.02 208.85L449.96 207.19M450.46 209.33A150.06 150.06 0 0 0 449.44 205.06M450.46 209.33L474.8 203.9M449.44 205.06L458.16 202.84M458.64 204.78A159.06 159.06 0 0 0 457.66 200.91M458.64 204.78L474.14 201.05M457.66 200.91L463.96 199.23M464.32 200.57A165.58 165.58 0 0 0 463.6 197.89M464.32 200.57L473.43 198.21M463.6 197.89L466.92 196.98M441.1 201.63L465.38 194.49M432.09 200.77L463.2 190.75M463.63 192.09A167.25 167.25 0 0 0 462.77 189.42M463.63 192.09L469.39 190.28M462.77 189.42L468.06 187.67M424.77 199.75L467.16 184.93M389.99 209.48L461.15 182.57M461.64 183.88A168.01 168.01 0 0 0 460.64 181.25M461.64 183.88L465.69 182.39M460.64 181.25L465.17 179.5M371.55 205.05L384.71 197.85M387.16 202.64A92 92 0 0 0 381.99 193.2M387.16 202.64L394.39 199.22M395.89 202.56A100 100 0 0 0 392.76 195.94M395.89 202.56L440.01 183.62M441.08 186.19A148.01 148.01 0 0 0 438.88 181.07M441.08 186.19L459.85 178.55M438.88 181.07L446.15 177.79M446.95 179.57A155.98 155.98 0 0 0 445.34 176.01M446.95 179.57L451.69 177.5M452.23 178.74A161.16 161.16 0 0 0 451.15 176.27M452.23 178.74L456.81 176.78M451.15 176.27L458.64 172.93M445.34 176.01L460.77 168.81M392.76 195.94L423.27 180.11M424.29 182.12A134.37 134.37 0 0 0 422.22 178.13M424.29 182.12L456.11 166.28M456.74 167.55A169.91 169.91 0 0 0 455.47 165.01M456.74 167.55L462.64 164.68M455.47 165.01L457.46 164M422.22 178.13L449.99 163.13M450.64 164.35A165.93 165.93 0 0 0 449.32 161.91M450.64 164.35L458.35 160.27M449.32 161.91L453.67 159.52M381.99 193.2L415.05 172.52M417.66 176.86A131 131 0 0 0 412.29 168.28M417.66 176.86L458.56 153.42M412.29 168.28L413.11 167.71M416.56 173.04A132 132 0 0 0 409.42 162.56M416.56 173.04L447.17 154.29M448.26 156.09A167.9 167.9 0 0 0 446.06 152.5M448.26 156.09L460.21 148.97M446.06 152.5L453.1 148.06M453.88 149.31A176.23 176.23 0 0 0 452.31 146.82M453.88 149.31L456.56 147.65M452.31 146.82L454.13 145.65M409.42 162.56L410.22 161.95M414.1 167.38A133 133 0 0 0 406.07 156.73M414.1 167.38L448.51 144.06M449.32 145.27A174.57 174.57 0 0 0 447.69 142.85M449.32 145.27L451.26 143.98M447.69 142.85L450.86 140.66M406.07 156.73L406.84 156.09M410.17 160.24A134 134 0 0 0 403.34 152.07M410.17 160.24L435.94 140.39M438.24 143.45A166.53 166.53 0 0 0 433.57 137.38M438.24 143.45L442.63 140.22M443.9 141.97A171.98 171.98 0 0 0 441.35 138.49M443.9 141.97L449.2 138.18M441.35 138.49L445.33 135.49M446.21 136.68A176.97 176.97 0 0 0 444.43 134.32M446.21 136.68L448.04 135.33M444.43 134.32L448.64 131.09M433.57 137.38L445.08 128.09M446.02 129.28A181.32 181.32 0 0 0 444.12 126.92M446.02 129.28L450.7 125.56M444.12 126.92L446.01 125.37M403.34 152.07L420.28 136.75M422.24 138.95A156.84 156.84 0 0 0 418.28 134.58M422.24 138.95L426.65 135.1M427.99 136.65A162.7 162.7 0 0 0 425.3 133.57M427.99 136.65L440.58 125.94M425.3 133.57L431.93 127.65M432.89 128.72A171.59 171.59 0 0 0 430.97 126.58M432.89 128.72L437.1 125.01M430.97 126.58L438.87 119.4M418.28 134.58L435.41 118.48M337.67 185.23L343.79 174.91M359.48 187.17A78 78 0 0 0 325.52 167.03M359.48 187.17L365.16 181.54M365.67 182.06A86 86 0 0 0 364.66 181.04M365.67 182.06L429.49 120.03M364.66 181.04L427.43 117.94M325.52 167.03L327.17 161.26M357.93 177.6A84 84 0 0 0 292.43 158.8M357.93 177.6L360.5 174.53M365.02 178.59A88 88 0 0 0 355.71 170.79M365.02 178.59L429.86 111.2M355.71 170.79L356.3 169.99M361.61 174.16A89 89 0 0 0 350.69 166.23M361.61 174.16L362.25 173.4M364.76 175.6A90 90 0 0 0 359.67 171.28M364.76 175.6L396.41 141.01M397.25 141.79A136.89 136.89 0 0 0 395.56 140.24M397.25 141.79L426 110.89M395.56 140.24L433.3 98.31M359.67 171.28L360.29 170.5M362.86 172.6A91 91 0 0 0 357.63 168.49M362.86 172.6L413.81 112.54M415.43 113.92A169.76 169.76 0 0 0 412.18 111.17M415.43 113.92L431.99 94.88M412.18 111.17L416.39 106.08M417.52 107.03A176.36 176.36 0 0 0 415.25 105.15M417.52 107.03L419.89 104.2M415.25 105.15L425.81 92.15M357.63 168.49L358.22 167.68M359.31 168.48A92 92 0 0 0 357.13 166.89M359.31 168.48L360.08 167.45M361.01 168.16A93.29 93.29 0 0 0 359.14 166.75M361.01 168.16L380.21 143.29M381.03 143.93A124.71 124.71 0 0 0 379.38 142.66M381.03 143.93L424.45 88.65M379.38 142.66L407.58 105.5M359.14 166.75L410.03 97.3M357.13 166.89L404.22 100.32M350.69 166.23L351.21 165.38M353.18 166.62A90 90 0 0 0 349.21 164.18M353.18 166.62L371.54 138.47M372.83 139.33A123.61 123.61 0 0 0 370.24 137.63M372.83 139.33L397.58 102.42M398.74 103.21A168.04 168.04 0 0 0 396.41 101.64M398.74 103.21L403.31 96.52M396.41 101.64L408.88 82.7M370.24 137.63L400.2 90.43M349.21 164.18L358.2 148.71M360.28 149.95A107.89 107.89 0 0 0 356.09 147.52M360.28 149.95L396.07 91.43M356.09 147.52L361.49 137.73M364.41 139.39A119.07 119.07 0 0 0 358.53 136.15M364.41 139.39L394.3 88.61M358.53 136.15L362.74 127.96M364.88 129.08A128.28 128.28 0 0 0 360.59 126.88M364.88 129.08L370.05 119.5M371.58 120.33A139.17 139.17 0 0 0 368.5 118.68M371.58 120.33L376.55 111.38M377.64 112A149.41 149.41 0 0 0 375.45 110.78M377.64 112L388.26 93.24M375.45 110.78L380.8 100.96M368.5 118.68L395.31 67.44M360.59 126.88L367.95 111.89M369.04 112.43A144.97 144.97 0 0 0 366.86 111.36M369.04 112.43L373.12 104.31M366.86 111.36L369.06 106.8M292.43 158.8L290.09 141.96M321.39 142.51A101 101 0 0 0 260.13 151.02M321.39 142.51L324.31 125.76M335.23 128.21A118 118 0 0 0 313.22 124.36M335.23 128.21L336.82 122.42M342.17 124.02A124 124 0 0 0 331.4 121.06M342.17 124.02L342.48 123.07M348.67 125.25A125 125 0 0 0 336.18 121.21M348.67 125.25L350.74 119.83M355.87 121.92A130.8 130.8 0 0 0 345.53 117.97M355.87 121.92L359.31 113.96M362.37 115.33A139.47 139.47 0 0 0 356.21 112.67M362.37 115.33L373.05 92.14M356.21 112.67L359.49 104.54M362.07 105.61A148.23 148.23 0 0 0 356.9 103.52M362.07 105.61L364.17 100.67M365.94 101.44A153.6 153.6 0 0 0 362.39 99.93M365.94 101.44L370.53 91.01M362.39 99.93L364.49 94.84M365.71 95.35A159.11 159.11 0 0 0 363.25 94.34M365.71 95.35L368 89.92M363.25 94.34L368.56 81.11M356.9 103.52L367.13 76.73M345.53 117.97L348.25 109.84M350.45 110.6A139.37 139.37 0 0 0 346.03 109.12M350.45 110.6L362.43 76.72M363.81 77.21A175.31 175.31 0 0 0 361.05 76.23M363.81 77.21L364.7 74.76M361.05 76.23L363.64 68.71M346.03 109.12L348.06 102.73M349.22 103.1A146.08 146.08 0 0 0 346.89 102.36M349.22 103.1L359.47 71.6M346.89 102.36L354.89 76.31M336.18 121.21L340.88 103.57M342.61 104.05A143.26 143.26 0 0 0 339.14 103.12M342.61 104.05L350.14 77.17M351.52 77.56A171.17 171.17 0 0 0 348.76 76.79M351.52 77.56L352.92 72.69M348.76 76.79L350.03 72.1M339.14 103.12L347.76 69.09M331.4 121.06L342.3 72.95M343.71 73.28A173.33 173.33 0 0 0 340.88 72.63M343.71 73.28L344.58 69.57M340.88 72.63L342.48 65.29M313.22 124.36L314 114.39M322.45 115.34A128 128 0 0 0 305.5 114.01M322.45 115.34L322.6 114.35M328.28 115.31A129 129 0 0 0 316.88 113.64M328.28 115.31L335.21 79.13M336.57 79.4A165.83 165.83 0 0 0 333.85 78.87M336.57 79.4L337 77.27M333.85 78.87L334.28 76.51M316.88 113.64L317.13 111.16M321.83 111.72A131.5 131.5 0 0 0 312.4 110.77M321.83 111.72L323.17 101.97M325.94 102.37A141.34 141.34 0 0 0 320.38 101.61M325.94 102.37L329.86 77.47M331.23 77.69A166.55 166.55 0 0 0 328.48 77.26M331.23 77.69L332.14 72.22M328.48 77.26L329.11 73.06M320.38 101.61L321.58 91.35M323.78 91.63A151.67 151.67 0 0 0 319.38 91.11M323.78 91.63L326.57 70.43M319.38 91.11L320.09 84.09M322.07 84.31A158.73 158.73 0 0 0 318.11 83.9M322.07 84.31L323.72 69.88M318.11 83.9L318.86 75.56M320.25 75.69A167.1 167.1 0 0 0 317.46 75.44M320.25 75.69L320.7 71.08M317.46 75.44L318.02 68.58M312.4 110.77L315.29 65.58M305.5 114.01L305.88 81.27M308.23 81.31A160.75 160.75 0 0 0 303.53 81.26M308.23 81.31L308.31 78.18M310.37 78.24A163.88 163.88 0 0 0 306.26 78.14M310.37 78.24L310.71 69.38M312.15 69.44A172.75 172.75 0 0 0 309.27 69.33M312.15 69.44L312.44 63.46M309.27 69.33L309.56 59.59M306.26 78.14L306.52 59.31M303.53 81.26L303.46 58.73M260.13 151.02L258.4 147.42M283.85 138.95A105 105 0 0 0 235.92 162.06M283.85 138.95L282.31 131.1M289.39 129.95A113 113 0 0 0 275.32 132.7M289.39 129.95L287.84 118.05M291.83 117.59A125 125 0 0 0 283.87 118.63M291.83 117.59L290.06 99.53M295.66 99.1A143.15 143.15 0 0 0 284.49 100.19M295.66 99.1L295.25 92.13M299.79 91.93A150.13 150.13 0 0 0 290.71 92.46M299.79 91.93L299.23 71.66M300.65 71.62A170.41 170.41 0 0 0 297.8 71.7M300.65 71.62L300.38 57.95M297.8 71.7L297.59 65.85M290.71 92.46L289.86 82.87M293.52 82.59A159.75 159.75 0 0 0 286.21 83.24M293.52 82.59L292.87 72.66M294.99 72.54A169.7 169.7 0 0 0 290.75 72.82M294.99 72.54L294.37 60.81M290.75 72.82L290.15 65.15M291.62 65.04A177.39 177.39 0 0 0 288.67 65.27M291.62 65.04L291.26 59.88M288.67 65.27L288.29 60.87M286.21 83.24L285.32 75.36M286.72 75.21A167.69 167.69 0 0 0 283.93 75.52M286.72 75.21L285.74 65.8M283.93 75.52L283.39 71.03M284.49 100.19L279.84 66.33M283.87 118.63L277.14 77.39M278.51 77.17A166.79 166.79 0 0 0 275.76 77.62M278.51 77.17L277 67.37M275.76 77.62L274.84 72.29M275.32 132.7L269.74 111.42M275.95 109.95A135 135 0 0 0 263.6 113.19M275.95 109.95L273.13 96.66M276.4 96A148.58 148.58 0 0 0 269.87 97.39M276.4 96L270.19 63.17M269.87 97.39L268.32 90.82M271.33 90.14A155.34 155.34 0 0 0 265.32 91.56M271.33 90.14L266.23 66.45M267.7 66.14A179.57 179.57 0 0 0 264.76 66.77M267.7 66.14L267.21 63.76M264.76 66.77L264.23 64.4M265.32 91.56L263.7 85.23M265.99 84.66A161.86 161.86 0 0 0 261.41 85.84M265.99 84.66L261.36 65.49M261.41 85.84L259.09 77.34M261.16 76.79A170.68 170.68 0 0 0 257.03 77.91M261.16 76.79L259.19 69.18M257.03 77.91L255.7 73.28M257.11 72.88A175.5 175.5 0 0 0 254.29 73.69M257.11 72.88L256.57 70.91M254.29 73.69L252.62 68.03M263.6 113.19L250.26 70.63M235.92 162.06L233.97 159.78M255.56 145.47A108 108 0 0 0 216.42 178.81M255.56 145.47L253.76 141.9M263.5 137.58A112 112 0 0 0 244.48 147.13M263.5 137.58L256.63 119.86M261.16 118.2A131 131 0 0 0 252.16 121.69M261.16 118.2L249.98 85.9M251.94 85.24A165.18 165.18 0 0 0 248.03 86.59M251.94 85.24L248.15 73.81M248.03 86.59L245.7 80.11M247.05 79.63A172.07 172.07 0 0 0 244.35 80.61M247.05 79.63L245.58 75.43M244.35 80.61L243.3 77.78M252.16 121.69L248.53 113.26M253.21 111.34A140.19 140.19 0 0 0 243.93 115.34M253.21 111.34L240.77 79.35M243.93 115.34L242.41 112.15M245 110.95A143.72 143.72 0 0 0 239.85 113.39M245 110.95L241.1 102.28M243.15 101.37A153.23 153.23 0 0 0 239.06 103.21M243.15 101.37L239.31 92.49M241.19 91.7A162.9 162.9 0 0 0 237.44 93.32M241.19 91.7L239.62 87.95M240.91 87.41A166.97 166.97 0 0 0 238.33 88.49M240.91 87.41L238.8 82.24M238.33 88.49L235.67 82.26M237.44 93.32L232.39 82.05M239.06 103.21L231.4 86.85M239.85 113.39L228.89 91.44M230.15 90.81A168.26 168.26 0 0 0 227.64 92.07M230.15 90.81L228.71 87.85M227.64 92.07L224.76 86.42M244.48 147.13L229.6 123.41M237.35 118.88A140 140 0 0 0 222.15 128.42M237.35 118.88L223.73 93.71M224.97 93.04A168.62 168.62 0 0 0 222.49 94.39M224.97 93.04L223.39 90.06M222.49 94.39L219.24 88.49M222.15 128.42L221.57 127.61M225.1 125.14A141 141 0 0 0 218.11 130.18M225.1 125.14L224.54 124.31M228.83 121.53A142 142 0 0 0 220.35 127.25M228.83 121.53L228.31 120.68M231.76 118.59A143 143 0 0 0 224.91 122.86M231.76 118.59L216.42 92.38M217.67 91.66A173.37 173.37 0 0 0 215.17 93.12M217.67 91.66L216.11 88.94M215.17 93.12L213.37 90.11M224.91 122.86L220.1 115.61M222.49 114.06A151.7 151.7 0 0 0 217.74 117.21M222.49 114.06L220.32 110.65M221.98 109.61A155.74 155.74 0 0 0 218.68 111.71M221.98 109.61L211.15 92.14M218.68 111.71L209.21 97.25M210.42 96.46A173.03 173.03 0 0 0 208 98.04M210.42 96.46L207.87 92.49M208 98.04L204.15 92.26M217.74 117.21L201.59 93.86M220.35 127.25L199.51 98.66M200.71 97.79A177.38 177.38 0 0 0 198.31 99.54M200.71 97.79L198.28 94.4M198.31 99.54L194.37 94.23M218.11 130.18L191.92 96.08M216.42 178.81L201.01 167.69M211.32 155.17A127 127 0 0 0 192.38 181.42M211.32 155.17L208.4 152.44M216.97 144.08A131 131 0 0 0 200.62 161.54M216.97 144.08L207.67 133.62M212.11 129.83A145 145 0 0 0 203.39 137.58M212.11 129.83L197.4 111.87M199.31 110.33A168.22 168.22 0 0 0 195.51 113.45M199.31 110.33L188.92 97.25M195.51 113.45L190 106.92M191.7 105.5A176.76 176.76 0 0 0 188.31 108.36M191.7 105.5L183.85 95.95M188.31 108.36L184.51 103.97M185.67 102.97A182.57 182.57 0 0 0 183.36 104.97M185.67 102.97L181.01 97.5M183.36 104.97L180.57 101.8M203.39 137.58L194.06 127.9M196.35 125.74A158.45 158.45 0 0 0 191.82 130.1M196.35 125.74L190.82 119.77M191.85 118.83A166.58 166.58 0 0 0 189.81 120.72M191.85 118.83L179.42 105.17M189.81 120.72L177.79 107.96M191.82 130.1L182.79 121.1M184.58 119.34A171.19 171.19 0 0 0 181.04 122.89M184.58 119.34L175.73 110.25M181.04 122.89L177.34 119.3M178.89 117.72A176.35 176.35 0 0 0 175.81 120.9M178.89 117.72L172.81 111.69M175.81 120.9L170.42 115.8M171.48 114.69A183.77 183.77 0 0 0 169.37 116.93M171.48 114.69L169.17 112.47M169.37 116.93L164.35 112.27M200.62 161.54L184.05 148.64M189.03 142.57A152 152 0 0 0 179.38 154.97M189.03 142.57L181.93 136.43M183.94 134.15A161.39 161.39 0 0 0 179.97 138.74M183.94 134.15L165.43 117.52M179.97 138.74L172.13 132.22M173.52 130.57A171.58 171.58 0 0 0 170.77 133.88M173.52 130.57L169.15 126.84M170.12 125.72A177.33 177.33 0 0 0 168.19 127.97M170.12 125.72L164.93 121.21M168.19 127.97L164.07 124.51M170.77 133.88L163.85 128.27M179.38 154.97L178.56 154.4M181.08 150.89A153 153 0 0 0 176.14 157.97M181.08 150.89L180.28 150.3M182.03 147.99A154 154 0 0 0 178.58 152.64M182.03 147.99L163.48 133.69M164.39 132.52A177.42 177.42 0 0 0 162.58 134.87M164.39 132.52L161.64 130.37M162.58 134.87L160.52 133.31M178.58 152.64L177.76 152.06M178.9 150.49A155 155 0 0 0 176.64 153.65M178.9 150.49L157.58 134.89M176.64 153.65L158.57 141.12M159.42 139.9A176.99 176.99 0 0 0 157.73 142.33M159.42 139.9L155.87 137.4M157.73 142.33L155.25 140.64M176.14 157.97L153.58 143.14M192.38 181.42L172.17 170.45M175.8 164.12A150 150 0 0 0 168.85 176.94M175.8 164.12L167.92 159.34M169.5 156.79A159.22 159.22 0 0 0 166.39 161.91M169.5 156.79L150.32 144.64M166.39 161.91L152.39 153.76M153.51 151.87A175.42 175.42 0 0 0 151.29 155.67M153.51 151.87L149.9 149.71M150.68 148.43A179.62 179.62 0 0 0 149.14 151M150.68 148.43L148.43 147.05M149.14 151L145.87 149.08M151.29 155.67L144.11 151.61M168.85 176.94L167.22 176.16M170.62 169.51A151.8 151.8 0 0 0 164.15 182.96M170.62 169.51L139.06 152.36M164.15 182.96L162.49 182.26M166.52 173.5A153.6 153.6 0 0 0 159.02 191.26M166.52 173.5L159.94 170.21M161.31 167.52A160.96 160.96 0 0 0 158.61 172.94M161.31 167.52L137.34 155M158.61 172.94L141.58 164.85M142.56 162.82A179.81 179.81 0 0 0 140.63 166.89M142.56 162.82L138.61 160.88M139.3 159.5A184.21 184.21 0 0 0 137.94 162.26M139.3 159.5L135.91 157.8M137.94 162.26L136.24 161.45M140.63 166.89L136.14 164.82M159.02 191.26L157.33 190.66M160.47 182.44A155.4 155.4 0 0 0 154.65 199.04M160.47 182.44L156.96 180.99M157.74 179.15A159.19 159.19 0 0 0 156.21 182.84M157.74 179.15L136.85 170.17M137.46 168.78A181.93 181.93 0 0 0 136.26 171.57M137.46 168.78L135.17 167.78M136.26 171.57L133.33 170.35M156.21 182.84L135.95 174.73M154.65 199.04L152.93 198.55M156.08 188.8A157.2 157.2 0 0 0 150.42 208.48M156.08 188.8L147.66 185.77M148.74 182.84A166.15 166.15 0 0 0 146.63 188.72M148.74 182.84L136.56 178.2M146.63 188.72L141.29 186.91M142 184.88A171.78 171.78 0 0 0 140.61 188.96M142 184.88L138.62 183.69M139.12 182.31A175.36 175.36 0 0 0 138.14 185.07M139.12 182.31L135.69 181.07M138.14 185.07L131.04 182.64M140.61 188.96L133.75 186.73M150.42 208.48L148.66 208.09M150.59 200.23A159 159 0 0 0 147.13 216.05M150.59 200.23L146.22 199.04M147.05 196.08A163.53 163.53 0 0 0 145.44 202.01M147.05 196.08L134.15 192.3M134.78 190.18A176.97 176.97 0 0 0 133.54 194.44M134.78 190.18L129.28 188.49M133.54 194.44L130.15 193.49M130.56 192.04A180.49 180.49 0 0 0 129.75 194.95M130.56 192.04L128.36 191.4M129.75 194.95L127.37 194.3M145.44 202.01L129.85 198.08M147.13 216.05L145.36 215.76M146.57 209.23A160.8 160.8 0 0 0 144.41 222.32M146.57 209.23L140.17 207.9M140.76 205.16A167.34 167.34 0 0 0 139.62 210.64M140.76 205.16L125.19 201.65M125.53 200.16A183.31 183.31 0 0 0 124.86 203.15M125.53 200.16L121.75 199.27M124.86 203.15L120.27 202.15M139.62 210.64L122.27 207.33M122.57 205.81A185.01 185.01 0 0 0 121.99 208.85M122.57 205.81L120.39 205.38M121.99 208.85L119.04 208.32M144.41 222.32L142.62 222.1M143.25 217.56A162.6 162.6 0 0 0 142.12 226.66M143.25 217.56L135.84 216.43M136.17 214.33A170.09 170.09 0 0 0 135.53 218.54M136.17 214.33L120.4 211.72M135.53 218.54L119.79 216.35M120.01 214.81A185.99 185.99 0 0 0 119.58 217.89M120.01 214.81L118.02 214.52M119.58 217.89L117.59 217.63M142.12 226.66L140.33 226.49M140.65 223.42A164.4 164.4 0 0 0 140.07 229.58M140.65 223.42L120.56 221.13M140.07 229.58L138.28 229.44M138.57 225.98A166.2 166.2 0 0 0 138.05 232.91M138.57 225.98L118.68 224.05M138.05 232.91L131.04 232.52M131.23 229.63A173.22 173.22 0 0 0 130.91 235.41M131.23 229.63L121.42 228.93M121.54 227.4A183.04 183.04 0 0 0 121.32 230.46M121.54 227.4L118.59 227.17M121.32 230.46L116.37 230.14M130.91 235.41L118.18 234.93M118.24 233.38A185.96 185.96 0 0 0 118.13 236.48M118.24 233.38L116.2 233.28M118.13 236.48L116.08 236.42" stroke="#111" stroke-width="0.8" fill="none"/><path d="M188.25 263.84h0.01M182.08 267.38h0.01M169.86 275.24h0.01M197.56 276.01h0.01M171.63 279.54h0.01M193.66 281.3h0.01M185.66 280.7h0.01M180.22 284.49h0.01M175.56 287.9h0.01M227.2 278.42h0.01M211.95 284.09h0.01M202.39 290.79h0.01M181.2 308.08h0.01M207.89 299.57h0.01M294.63 298.22h0.01M262.95 285.76h0.01M259.22 289.12h0.01M245.34 290.66h0.01M229.77 295.83h0.01M226.55 318.46h0.01M216 324.79h0.01M211.44 325.16h0.01M205.84 332.44h0.01M208.37 336.21h0.01M213.43 340.65h0.01M260.39 301.78h0.01M250.31 323.13h0.01M251.64 333.78h0.01M232.59 345.42h0.01M230.98 354.8h0.01M226.66 355.41h0.01M223 362.38h0.01M252.66 342.55h0.01M240.97 364.5h0.01M329.05 297.62h0.01M293.16 303.05h0.01M280.64 304.8h0.01M271.07 344.03h0.01M265.2 352.63h0.01M252.53 372.81h0.01M304.31 309h0.01M291.3 323.01h0.01M279.61 352.28h0.01M273.88 380.59h0.01M294.18 346.95h0.01M291.96 368.58h0.01M294.12 375.31h0.01M302.11 383.34h0.01M302.9 396.88h0.01M316.46 316.97h0.01M312.44 352.14h0.01M309.71 362.72h0.01M311.39 365.44h0.01M316.8 362.53h0.01M320.56 318.22h0.01M319.11 319.54h0.01M322.25 368.37h0.01M322.24 337.16h0.01M325.95 364.81h0.01M342.58 370.44h0.01M342.75 387.4h0.01M349.92 385.06h0.01M357.75 274.86h0.01M333.33 323.86h0.01M342.19 316.72h0.01M353.02 356.45h0.01M361.85 347.7h0.01M365.94 361.63h0.01M367.54 352.01h0.01M358.76 315.62h0.01M357.2 322.43h0.01M366.25 326.95h0.01M396.87 365.44h0.01M371.16 323.74h0.01M400.1 354.81h0.01M405.01 356.16h0.01M408.17 362.74h0.01M380.11 312.14h0.01M385.86 319.59h0.01M394.13 307.35h0.01M393.97 316.99h0.01M407.94 334.12h0.01M411.84 331.32h0.01M432.75 323.11h0.01M414.81 295.58h0.01M421.04 304.28h0.01M446.6 312.24h0.01M368.86 237.78h0.01M369.16 267.58h0.01M361.79 210.12h0.01M370.98 243.83h0.01M379.6 266.86h0.01M379.82 258.53h0.01M392.15 252.74h0.01M401.57 252.02h0.01M452.92 255.42h0.01M372.44 227.3h0.01M426.87 243.09h0.01M459.71 245.58h0.01M456.59 229.53h0.01M376.45 215.93h0.01M405.71 216.57h0.01M426.08 203.7h0.01M433.64 205.92h0.01M442.11 205.23h0.01M463.96 199.23h0.01M463.2 190.75h0.01M461.15 182.57h0.01M384.71 197.85h0.01M394.39 199.22h0.01M440.01 183.62h0.01M446.15 177.79h0.01M451.69 177.5h0.01M423.27 180.11h0.01M456.11 166.28h0.01M449.99 163.13h0.01M413.11 167.71h0.01M447.17 154.29h0.01M410.22 161.95h0.01M448.51 144.06h0.01M406.84 156.09h0.01M435.94 140.39h0.01M442.63 140.22h0.01M445.08 128.09h0.01M420.28 136.75h0.01M431.93 127.65h0.01M343.79 174.91h0.01M365.16 181.54h0.01M327.17 161.26h0.01M362.25 173.4h0.01M413.81 112.54h0.01M416.39 106.08h0.01M358.22 167.68h0.01M360.08 167.45h0.01M397.58 102.42h0.01M361.49 137.73h0.01M362.74 127.96h0.01M370.05 119.5h0.01M367.95 111.89h0.01M336.82 122.42h0.01M342.48 123.07h0.01M350.74 119.83h0.01M359.31 113.96h0.01M364.17 100.67h0.01M362.43 76.72h0.01M348.06 102.73h0.01M350.14 77.17h0.01M342.3 72.95h0.01M314 114.39h0.01M335.21 79.13h0.01M317.13 111.16h0.01M323.17 101.97h0.01M329.86 77.47h0.01M320.09 84.09h0.01M318.86 75.56h0.01M310.71 69.38h0.01M258.4 147.42h0.01M282.31 131.1h0.01M295.25 92.13h0.01M299.23 71.66h0.01M289.86 82.87h0.01M290.15 65.15h0.01M277.14 77.39h0.01M266.23 66.45h0.01M259.09 77.34h0.01M255.7 73.28h0.01M233.97 159.78h0.01M253.76 141.9h0.01M256.63 119.86h0.01M249.98 85.9h0.01M245.7 80.11h0.01M242.41 112.15h0.01M241.1 102.28h0.01M239.31 92.49h0.01M239.62 87.95h0.01M223.73 93.71h0.01M221.57 127.61h0.01M228.31 120.68h0.01M216.42 92.38h0.01M209.21 97.25h0.01M201.01 167.69h0.01M208.4 152.44h0.01M197.4 111.87h0.01M190 106.92h0.01M194.06 127.9h0.01M177.34 119.3h0.01M170.42 115.8h0.01M172.13 132.22h0.01M169.15 126.84h0.01M178.56 154.4h0.01M180.28 150.3h0.01M163.48 133.69h0.01M177.76 152.06h0.01M158.57 141.12h0.01M167.92 159.34h0.01M152.39 153.76h0.01M159.94 170.21h0.01M136.85 170.17h0.01M147.66 185.77h0.01M146.22 199.04h0.01M134.15 192.3h0.01M145.36 215.76h0.01M125.19 201.65h0.01M122.27 207.33h0.01M135.84 216.43h0.01M119.79 216.35h0.01M140.33 226.49h0.01M138.28 229.44h0.01M131.04 232.52h0.01M121.42 228.93h0.01" stroke="#000" stroke-width="1.6" stroke-linecap="round" fill="none"/><g font-family="Liberation Sans, Arial, sans-serif" font-size="3.3" stroke-width="0.1"><text x="101.26" y="252.27" fill="#e03838" stroke="#e03838" text-anchor="end" dominant-baseline="central" transform="rotate(-2.9 101.26 252.27)">AaegOrco</text><text x="101.46" y="255.66" fill="#333333" stroke="#333333" text-anchor="end" dominant-baseline="central" transform="rotate(-3.86 101.46 255.66)">AcerOrco</text><text x="101.72" y="259.04" fill="#333333" stroke="#333333" text-anchor="end" dominant-baseline="central" transform="rotate(-4.82 101.72 259.04)">PxylOrco</text><text x="102.03" y="262.42" fill="#4040d4" stroke="#4040d4" text-anchor="end" dominant-baseline="central" transform="rotate(-5.77 102.03 262.42)">TcasOrco</text><text x="102.4" y="265.8" fill="#333333" stroke="#333333" text-anchor="end" dominant-baseline="central" transform="rotate(-6.73 102.4 265.8)">AcerOR56</text><text x="102.83" y="269.16" fill="#4040d4" stroke="#4040d4" text-anchor="end" dominant-baseline="central" transform="rotate(-7.69 102.83 269.16)">TcasOr249</text><text x="103.31" y="272.52" fill="#4040d4" stroke="#4040d4" text-anchor="end" dominant-baseline="central" transform="rotate(-8.65 103.31 272.52)">TcasOr156PSE</text><text x="103.85" y="275.87" fill="#333333" stroke="#333333" text-anchor="end" dominant-baseline="central" transform="rotate(-9.61 103.85 275.87)">PxylOR14</text><text x="104.44" y="279.22" fill="#333333" stroke="#333333" text-anchor="end" dominant-baseline="central" transform="rotate(-10.56 104.44 279.22)">AcerOR65</text><text x="105.09" y="282.55" fill="#333333" stroke="#333333" text-anchor="end" dominant-baseline="central" transform="rotate(-11.52 105.09 282.55)">PxylOr18</text><text x="105.8" y="285.87" fill="#2a9a3a" stroke="#2a9a3a" text-anchor="end" dominant-baseline="central" transform="rotate(-12.48 105.8 285.87)">MsexOr15</text><text x="106.56" y="289.17" fill="#333333" stroke="#333333" text-anchor="end" dominant-baseline="central" transform="rotate(-13.44 106.56 289.17)">PxylOr17</text><text x="107.37" y="292.47" fill="#333333" stroke="#333333" text-anchor="end" dominant-baseline="central" transform="rotate(-14.4 107.37 292.47)">AcerOR38</text><text x="108.24" y="295.75" fill="#4040d4" stroke="#4040d4" text-anchor="end" dominant-baseline="central" transform="rotate(-15.35 108.24 295.75)">TcasOr261</text><text x="109.17" y="299.01" fill="#4040d4" stroke="#4040d4" text-anchor="end" dominant-baseline="central" transform="rotate(-16.31 109.17 299.01)">TcasOr260</text><text x="110.15" y="302.26" fill="#4040d4" stroke="#4040d4" text-anchor="end" dominant-baseline="central" transform="rotate(-17.27 110.15 302.26)">TcasOr249</text><text x="111.19" y="305.5" fill="#4040d4" stroke="#4040d4" text-anchor="end" dominant-baseline="central" transform="rotate(-18.23 111.19 305.5)">TcasOr115</text><text x="112.27" y="308.71" fill="#4040d4" stroke="#4040d4" text-anchor="end" dominant-baseline="central" transform="rotate(-19.19 112.27 308.71)">TcasOr247</text><text x="113.42" y="311.91" fill="#4040d4" stroke="#4040d4" text-anchor="end" dominant-baseline="central" transform="rotate(-20.14 113.42 311.91)">TcasOr249</text><text x="114.61" y="315.08" fill="#4040d4" stroke="#4040d4" text-anchor="end" dominant-baseline="central" transform="rotate(-21.1 114.61 315.08)">TcasOr201</text><text x="115.86" y="318.24" fill="#4040d4" stroke="#4040d4" text-anchor="end" dominant-baseline="central" transform="rotate(-22.06 115.86 318.24)">TcasOr112</text><text x="117.16" y="321.37" fill="#4040d4" stroke="#4040d4" text-anchor="end" dominant-baseline="central" transform="rotate(-23.02 117.16 321.37)">TcasOr156</text><text x="118.51" y="324.49" fill="#4040d4" stroke="#4040d4" text-anchor="end" dominant-baseline="central" transform="rotate(-23.97 118.51 324.49)">TcasOr111</text><text x="119.92" y="327.58" fill="#4040d4" stroke="#4040d4" text-anchor="end" dominant-baseline="central" transform="rotate(-24.93 119.92 327.58)">TcasOr242</text><text x="121.38" y="330.64" fill="#4040d4" stroke="#4040d4" text-anchor="end" dominant-baseline="central" transform="rotate(-25.89 121.38 330.64)">TcasOr134</text><text x="122.88" y="333.68" fill="#4040d4" stroke="#4040d4" text-anchor="end" dominant-baseline="central" transform="rotate(-26.85 122.88 333.68)">TcasOr174</text><text x="124.44" y="336.7" fill="#4040d4" stroke="#4040d4" text-anchor="end" dominant-baseline="central" transform="rotate(-27.81 124.44 336.7)">TcasOr207</text><text x="126.05" y="339.69" fill="#4040d4" stroke="#4040d4" text-anchor="end" dominant-baseline="central" transform="rotate(-28.76 126.05 339.69)">TcasOr136</text><text x="127.71" y="342.65" fill="#4040d4" stroke="#4040d4" text-anchor="end" dominant-baseline="central" transform="rotate(-29.72 127.71 342.65)">TcasOr238</text><text x="129.41" y="345.58" fill="#4040d4" stroke="#4040d4" text-anchor="end" dominant-baseline="central" transform="rotate(-30.68 129.41 345.58)">TcasOr130</text><text x="131.17" y="348.49" fill="#4040d4" stroke="#4040d4" text-anchor="end" dominant-baseline="central" transform="rotate(-31.64 131.17 348.49)">TcasOr246</text><text x="132.98" y="351.36" fill="#333333" stroke="#333333" text-anchor="end" dominant-baseline="central" transform="rotate(-32.6 132.98 351.36)">AmelOR81</text><text x="134.83" y="354.2" fill="#333333" stroke="#333333" text-anchor="end" dominant-baseline="central" transform="rotate(-33.55 134.83 354.2)">PxylOR23</text><text x="136.73" y="357.02" fill="#2a9a3a" stroke="#2a9a3a" text-anchor="end" dominant-baseline="central" transform="rotate(-34.51 136.73 357.02)">MsexOr33</text><text x="138.67" y="359.8" fill="#333333" stroke="#333333" text-anchor="end" dominant-baseline="central" transform="rotate(-35.47 138.67 359.8)">AcerOR80</text><text x="140.67" y="362.54" fill="#333333" stroke="#333333" text-anchor="end" dominant-baseline="central" transform="rotate(-36.43 140.67 362.54)">AcerOR82</text><text x="142.7" y="365.26" fill="#333333" stroke="#333333" text-anchor="end" dominant-baseline="central" transform="rotate(-37.39 142.7 365.26)">AcerOR89</text><text x="144.79" y="367.94" fill="#2a9a3a" stroke="#2a9a3a" text-anchor="end" dominant-baseline="central" transform="rotate(-38.34 144.79 367.94)">MsexOr41</text><text x="146.92" y="370.58" fill="#333333" stroke="#333333" text-anchor="end" dominant-baseline="central" transform="rotate(-39.3 146.92 370.58)">PxylOr50</text><text x="149.09" y="373.19" fill="#e03838" stroke="#e03838" text-anchor="end" dominant-baseline="central" transform="rotate(-40.26 149.09 373.19)">HarmOR84</text><text x="151.3" y="375.76" fill="#333333" stroke="#333333" text-anchor="end" dominant-baseline="central" transform="rotate(-41.22 151.3 375.76)">PxylOr56</text><text x="153.56" y="378.3" fill="#e03838" stroke="#e03838" text-anchor="end" dominant-baseline="central" transform="rotate(-42.18 153.56 378.3)">HarmOR41</text><text x="155.86" y="380.79" fill="#e03838" stroke="#e03838" text-anchor="end" dominant-baseline="central" transform="rotate(-43.13 155.86 380.79)">AaegOr99</text><text x="158.2" y="383.25" fill="#e03838" stroke="#e03838" text-anchor="end" dominant-baseline="central" transform="rotate(-44.09 158.2 383.25)">AaegOr20</text><text x="160.58" y="385.67" fill="#e03838" stroke="#e03838" text-anchor="end" dominant-baseline="central" transform="rotate(-45.05 160.58 385.67)">AgamOr48</text><text x="163" y="388.05" fill="#e03838" stroke="#e03838" text-anchor="end" dominant-baseline="central" transform="rotate(-46.01 163 388.05)">AgamOr73</text><text x="165.47" y="390.38" fill="#e03838" stroke="#e03838" text-anchor="end" dominant-baseline="central" transform="rotate(-46.97 165.47 390.38)">HarmOR67</text><text x="167.97" y="392.68" fill="#e03838" stroke="#e03838" text-anchor="end" dominant-baseline="central" transform="rotate(-47.92 167.97 392.68)">HarmOR87</text><text x="170.5" y="394.93" fill="#e03838" stroke="#e03838" text-anchor="end" dominant-baseline="central" transform="rotate(-48.88 170.5 394.93)">AaegOr25</text><text x="173.08" y="397.14" fill="#e03838" stroke="#e03838" text-anchor="end" dominant-baseline="central" transform="rotate(-49.84 173.08 397.14)">AgamOr63</text><text x="175.69" y="399.31" fill="#333333" stroke="#333333" text-anchor="end" dominant-baseline="central" transform="rotate(-50.8 175.69 399.31)">PxylOR53</text><text x="178.34" y="401.43" fill="#333333" stroke="#333333" text-anchor="end" dominant-baseline="central" transform="rotate(-51.76 178.34 401.43)">PxylOR72</text><text x="181.02" y="403.51" fill="#333333" stroke="#333333" text-anchor="end" dominant-baseline="central" transform="rotate(-52.71 181.02 403.51)">PxylOr15</text><text x="183.74" y="405.54" fill="#333333" stroke="#333333" text-anchor="end" dominant-baseline="central" transform="rotate(-53.67 183.74 405.54)">AcerOR81</text><text x="186.49" y="407.53" fill="#2a9a3a" stroke="#2a9a3a" text-anchor="end" dominant-baseline="central" transform="rotate(-54.63 186.49 407.53)">BmorOr31</text><text x="189.27" y="409.47" fill="#4040d4" stroke="#4040d4" text-anchor="end" dominant-baseline="central" transform="rotate(-55.59 189.27 409.47)">TcasOr277</text><text x="192.09" y="411.37" fill="#4040d4" stroke="#4040d4" text-anchor="end" dominant-baseline="central" transform="rotate(-56.55 192.09 411.37)">TcasOr189</text><text x="194.94" y="413.21" fill="#333333" stroke="#333333" text-anchor="end" dominant-baseline="central" transform="rotate(-57.5 194.94 413.21)">PxylOr84</text><text x="197.82" y="415.01" fill="#333333" stroke="#333333" text-anchor="end" dominant-baseline="central" transform="rotate(-58.46 197.82 415.01)">PxylOr18</text><text x="200.72" y="416.77" fill="#333333" stroke="#333333" text-anchor="end" dominant-baseline="central" transform="rotate(-59.42 200.72 416.77)">AcerOR44</text><text x="203.66" y="418.47" fill="#4040d4" stroke="#4040d4" text-anchor="end" dominant-baseline="central" transform="rotate(-60.38 203.66 418.47)">TcasOr221</text><text x="206.62" y="420.12" fill="#333333" stroke="#333333" text-anchor="end" dominant-baseline="central" transform="rotate(-61.34 206.62 420.12)">AcerOR17</text><text x="209.62" y="421.72" fill="#333333" stroke="#333333" text-anchor="end" dominant-baseline="central" transform="rotate(-62.29 209.62 421.72)">AmelOR92</text><text x="212.63" y="423.28" fill="#333333" stroke="#333333" text-anchor="end" dominant-baseline="central" transform="rotate(-63.25 212.63 423.28)">PxylOr46</text><text x="215.68" y="424.78" fill="#2a9a3a" stroke="#2a9a3a" text-anchor="end" dominant-baseline="central" transform="rotate(-64.21 215.68 424.78)">BmorOr66</text><text x="218.74" y="426.23" fill="#333333" stroke="#333333" text-anchor="end" dominant-baseline="central" transform="rotate(-65.17 218.74 426.23)">AmelOR12</text><text x="221.84" y="427.63" fill="#333333" stroke="#333333" text-anchor="end" dominant-baseline="central" transform="rotate(-66.12 221.84 427.63)">PxylOr55</text><text x="224.95" y="428.98" fill="#333333" stroke="#333333" text-anchor="end" dominant-baseline="central" transform="rotate(-67.08 224.95 428.98)">PxylOR88</text><text x="228.09" y="430.27" fill="#333333" stroke="#333333" text-anchor="end" dominant-baseline="central" transform="rotate(-68.04 228.09 430.27)">AcerOR73</text><text x="231.25" y="431.52" fill="#333333" stroke="#333333" text-anchor="end" dominant-baseline="central" transform="rotate(-69 231.25 431.52)">AcerOR37</text><text x="234.43" y="432.7" fill="#e03838" stroke="#e03838" text-anchor="end" dominant-baseline="central" transform="rotate(-69.96 234.43 432.7)">HarmOR26</text><text x="237.62" y="433.84" fill="#4040d4" stroke="#4040d4" text-anchor="end" dominant-baseline="central" transform="rotate(-70.91 237.62 433.84)">TcasOr289</text><text x="240.84" y="434.92" fill="#4040d4" stroke="#4040d4" text-anchor="end" dominant-baseline="central" transform="rotate(-71.87 240.84 434.92)">TcasOr163</text><text x="244.07" y="435.95" fill="#4040d4" stroke="#4040d4" text-anchor="end" dominant-baseline="central" transform="rotate(-72.83 244.07 435.95)">TcasOr201</text><text x="247.33" y="436.93" fill="#4040d4" stroke="#4040d4" text-anchor="end" dominant-baseline="central" transform="rotate(-73.79 247.33 436.93)">TcasOr200</text><text x="250.59" y="437.85" fill="#4040d4" stroke="#4040d4" text-anchor="end" dominant-baseline="central" transform="rotate(-74.75 250.59 437.85)">TcasOr227</text><text x="253.87" y="438.71" fill="#4040d4" stroke="#4040d4" text-anchor="end" dominant-baseline="central" transform="rotate(-75.7 253.87 438.71)">TcasOr120</text><text x="257.17" y="439.52" fill="#333333" stroke="#333333" text-anchor="end" dominant-baseline="central" transform="rotate(-76.66 257.17 439.52)">PxylOR67</text><text x="260.48" y="440.28" fill="#333333" stroke="#333333" text-anchor="end" dominant-baseline="central" transform="rotate(-77.62 260.48 440.28)">PxylOr80</text><text x="263.8" y="440.98" fill="#333333" stroke="#333333" text-anchor="end" dominant-baseline="central" transform="rotate(-78.58 263.8 440.98)">AmelOR27</text><text x="267.13" y="441.62" fill="#333333" stroke="#333333" text-anchor="end" dominant-baseline="central" transform="rotate(-79.54 267.13 441.62)">PxylOr80</text><text x="270.47" y="442.21" fill="#333333" stroke="#333333" text-anchor="end" dominant-baseline="central" transform="rotate(-80.49 270.47 442.21)">AmelOR63</text><text x="273.83" y="442.75" fill="#333333" stroke="#333333" text-anchor="end" dominant-baseline="central" transform="rotate(-81.45 273.83 442.75)">AmelOR97</text><text x="277.19" y="443.22" fill="#333333" stroke="#333333" text-anchor="end" dominant-baseline="central" transform="rotate(-82.41 277.19 443.22)">PxylOr39</text><text x="280.55" y="443.64" fill="#333333" stroke="#333333" text-anchor="end" dominant-baseline="central" transform="rotate(-83.37 280.55 443.64)">PxylOR20</text><text x="283.93" y="444.01" fill="#333333" stroke="#333333" text-anchor="end" dominant-baseline="central" transform="rotate(-84.33 283.93 444.01)">PxylOR29</text><text x="287.31" y="444.31" fill="#e03838" stroke="#e03838" text-anchor="end" dominant-baseline="central" transform="rotate(-85.28 287.31 444.31)">AaegOr94</text><text x="290.69" y="444.56" fill="#333333" stroke="#333333" text-anchor="end" dominant-baseline="central" transform="rotate(-86.24 290.69 444.56)">PxylOR11</text><text x="294.08" y="444.76" fill="#333333" stroke="#333333" text-anchor="end" dominant-baseline="central" transform="rotate(-87.2 294.08 444.76)">PxylOr85</text><text x="297.47" y="444.9" fill="#333333" stroke="#333333" text-anchor="end" dominant-baseline="central" transform="rotate(-88.16 297.47 444.9)">PxylOR43</text><text x="300.87" y="444.98" fill="#333333" stroke="#333333" text-anchor="end" dominant-baseline="central" transform="rotate(-89.12 300.87 444.98)">AmelOR10</text><text x="304.26" y="445" fill="#333333" stroke="#333333" text-anchor="start" dominant-baseline="central" transform="rotate(-270.07 304.26 445)">PxylOR63</text><text x="307.65" y="444.97" fill="#333333" stroke="#333333" text-anchor="start" dominant-baseline="central" transform="rotate(-271.03 307.65 444.97)">AmelOR88</text><text x="311.05" y="444.88" fill="#4040d4" stroke="#4040d4" text-anchor="start" dominant-baseline="central" transform="rotate(-271.99 311.05 444.88)">TcasOr244</text><text x="314.44" y="444.73" fill="#4040d4" stroke="#4040d4" text-anchor="start" dominant-baseline="central" transform="rotate(-272.95 314.44 444.73)">TcasOr181</text><text x="317.83" y="444.53" fill="#4040d4" stroke="#4040d4" text-anchor="start" dominant-baseline="central" transform="rotate(-273.91 317.83 444.53)">TcasOr132</text><text x="321.21" y="444.27" fill="#4040d4" stroke="#4040d4" text-anchor="start" dominant-baseline="central" transform="rotate(-274.86 321.21 444.27)">TcasOr276</text><text x="324.59" y="443.95" fill="#4040d4" stroke="#4040d4" text-anchor="start" dominant-baseline="central" transform="rotate(-275.82 324.59 443.95)">TcasOr231</text><text x="327.96" y="443.58" fill="#4040d4" stroke="#4040d4" text-anchor="start" dominant-baseline="central" transform="rotate(-276.78 327.96 443.58)">TcasOr258</text><text x="331.33" y="443.15" fill="#4040d4" stroke="#4040d4" text-anchor="start" dominant-baseline="central" transform="rotate(-277.74 331.33 443.15)">TcasOr267</text><text x="334.69" y="442.67" fill="#4040d4" stroke="#4040d4" text-anchor="start" dominant-baseline="central" transform="rotate(-278.7 334.69 442.67)">TcasOr273</text><text x="338.04" y="442.13" fill="#4040d4" stroke="#4040d4" text-anchor="start" dominant-baseline="central" transform="rotate(-279.65 338.04 442.13)">TcasOr289</text><text x="341.38" y="441.53" fill="#4040d4" stroke="#4040d4" text-anchor="start" dominant-baseline="central" transform="rotate(-280.61 341.38 441.53)">TcasOr113</text><text x="344.71" y="440.88" fill="#4040d4" stroke="#4040d4" text-anchor="start" dominant-baseline="central" transform="rotate(-281.57 344.71 440.88)">TcasOr216</text><text x="348.03" y="440.17" fill="#4040d4" stroke="#4040d4" text-anchor="start" dominant-baseline="central" transform="rotate(-282.53 348.03 440.17)">TcasOr299</text><text x="351.34" y="439.4" fill="#4040d4" stroke="#4040d4" text-anchor="start" dominant-baseline="central" transform="rotate(-283.48 351.34 439.4)">TcasOr274</text><text x="354.63" y="438.58" fill="#4040d4" stroke="#4040d4" text-anchor="start" dominant-baseline="central" transform="rotate(-284.44 354.63 438.58)">TcasOr243</text><text x="357.91" y="437.71" fill="#4040d4" stroke="#4040d4" text-anchor="start" dominant-baseline="central" transform="rotate(-285.4 357.91 437.71)">TcasOr200</text><text x="361.18" y="436.78" fill="#4040d4" stroke="#4040d4" text-anchor="start" dominant-baseline="central" transform="rotate(-286.36 361.18 436.78)">TcasOr201</text><text x="364.42" y="435.8" fill="#4040d4" stroke="#4040d4" text-anchor="start" dominant-baseline="central" transform="rotate(-287.32 364.42 435.8)">TcasOr202</text><text x="367.66" y="434.76" fill="#333333" stroke="#333333" text-anchor="start" dominant-baseline="central" transform="rotate(-288.27 367.66 434.76)">PxylOr23</text><text x="370.87" y="433.67" fill="#e03838" stroke="#e03838" text-anchor="start" dominant-baseline="central" transform="rotate(-289.23 370.87 433.67)">HarmOR91</text><text x="374.06" y="432.53" fill="#333333" stroke="#333333" text-anchor="start" dominant-baseline="central" transform="rotate(-290.19 374.06 432.53)">PxylOr17</text><text x="377.24" y="431.33" fill="#333333" stroke="#333333" text-anchor="start" dominant-baseline="central" transform="rotate(-291.15 377.24 431.33)">PxylOR18</text><text x="380.39" y="430.08" fill="#333333" stroke="#333333" text-anchor="start" dominant-baseline="central" transform="rotate(-292.11 380.39 430.08)">PxylOR66</text><text x="383.53" y="428.77" fill="#4040d4" stroke="#4040d4" text-anchor="start" dominant-baseline="central" transform="rotate(-293.06 383.53 428.77)">TcasOr141</text><text x="386.64" y="427.42" fill="#4040d4" stroke="#4040d4" text-anchor="start" dominant-baseline="central" transform="rotate(-294.02 386.64 427.42)">TcasOr128</text><text x="389.73" y="426.01" fill="#4040d4" stroke="#4040d4" text-anchor="start" dominant-baseline="central" transform="rotate(-294.98 389.73 426.01)">TcasOr187</text><text x="392.79" y="424.55" fill="#4040d4" stroke="#4040d4" text-anchor="start" dominant-baseline="central" transform="rotate(-295.94 392.79 424.55)">TcasOr253</text><text x="395.83" y="423.04" fill="#333333" stroke="#333333" text-anchor="start" dominant-baseline="central" transform="rotate(-296.9 395.83 423.04)">AcerOR23</text><text x="398.85" y="421.48" fill="#333333" stroke="#333333" text-anchor="start" dominant-baseline="central" transform="rotate(-297.85 398.85 421.48)">AcerOR82</text><text x="401.83" y="419.87" fill="#333333" stroke="#333333" text-anchor="start" dominant-baseline="central" transform="rotate(-298.81 401.83 419.87)">PxylOR78</text><text x="404.79" y="418.21" fill="#4040d4" stroke="#4040d4" text-anchor="start" dominant-baseline="central" transform="rotate(-299.77 404.79 418.21)">TcasOr125</text><text x="407.73" y="416.5" fill="#4040d4" stroke="#4040d4" text-anchor="start" dominant-baseline="central" transform="rotate(-300.73 407.73 416.5)">TcasOr193</text><text x="410.63" y="414.74" fill="#4040d4" stroke="#4040d4" text-anchor="start" dominant-baseline="central" transform="rotate(-301.69 410.63 414.74)">TcasOr257</text><text x="413.5" y="412.93" fill="#4040d4" stroke="#4040d4" text-anchor="start" dominant-baseline="central" transform="rotate(-302.64 413.5 412.93)">TcasOr106</text><text x="416.34" y="411.08" fill="#4040d4" stroke="#4040d4" text-anchor="start" dominant-baseline="central" transform="rotate(-303.6 416.34 411.08)">TcasOr118</text><text x="419.16" y="409.18" fill="#4040d4" stroke="#4040d4" text-anchor="start" dominant-baseline="central" transform="rotate(-304.56 419.16 409.18)">TcasOr153</text><text x="421.93" y="407.23" fill="#4040d4" stroke="#4040d4" text-anchor="start" dominant-baseline="central" transform="rotate(-305.52 421.93 407.23)">TcasOr257</text><text x="424.68" y="405.23" fill="#4040d4" stroke="#4040d4" text-anchor="start" dominant-baseline="central" transform="rotate(-306.48 424.68 405.23)">TcasOr196</text><text x="427.39" y="403.19" fill="#4040d4" stroke="#4040d4" text-anchor="start" dominant-baseline="central" transform="rotate(-307.43 427.39 403.19)">TcasOr138</text><text x="430.07" y="401.11" fill="#4040d4" stroke="#4040d4" text-anchor="start" dominant-baseline="central" transform="rotate(-308.39 430.07 401.11)">TcasOr262</text><text x="432.71" y="398.98" fill="#4040d4" stroke="#4040d4" text-anchor="start" dominant-baseline="central" transform="rotate(-309.35 432.71 398.98)">TcasOr164</text><text x="435.32" y="396.8" fill="#4040d4" stroke="#4040d4" text-anchor="start" dominant-baseline="central" transform="rotate(-310.31 435.32 396.8)">TcasOr188</text><text x="437.89" y="394.59" fill="#e03838" stroke="#e03838" text-anchor="start" dominant-baseline="central" transform="rotate(-311.27 437.89 394.59)">AgamOr56</text><text x="440.42" y="392.33" fill="#e03838" stroke="#e03838" text-anchor="start" dominant-baseline="central" transform="rotate(-312.22 440.42 392.33)">HarmOR25</text><text x="442.92" y="390.03" fill="#e03838" stroke="#e03838" text-anchor="start" dominant-baseline="central" transform="rotate(-313.18 442.92 390.03)">AaegOr72</text><text x="445.37" y="387.68" fill="#e03838" stroke="#e03838" text-anchor="start" dominant-baseline="central" transform="rotate(-314.14 445.37 387.68)">HarmOR71</text><text x="447.79" y="385.3" fill="#e03838" stroke="#e03838" text-anchor="start" dominant-baseline="central" transform="rotate(-315.1 447.79 385.3)">HarmOR49</text><text x="450.16" y="382.87" fill="#333333" stroke="#333333" text-anchor="start" dominant-baseline="central" transform="rotate(-316.06 450.16 382.87)">AcerOR28</text><text x="452.5" y="380.41" fill="#333333" stroke="#333333" text-anchor="start" dominant-baseline="central" transform="rotate(-317.01 452.5 380.41)">AcerOR53</text><text x="454.79" y="377.91" fill="#333333" stroke="#333333" text-anchor="start" dominant-baseline="central" transform="rotate(-317.97 454.79 377.91)">AmelOR71</text><text x="457.04" y="375.37" fill="#4040d4" stroke="#4040d4" text-anchor="start" dominant-baseline="central" transform="rotate(-318.93 457.04 375.37)">TcasOr277</text><text x="459.25" y="372.79" fill="#4040d4" stroke="#4040d4" text-anchor="start" dominant-baseline="central" transform="rotate(-319.89 459.25 372.79)">TcasOr141</text><text x="461.41" y="370.18" fill="#4040d4" stroke="#4040d4" text-anchor="start" dominant-baseline="central" transform="rotate(-320.85 461.41 370.18)">TcasOr232</text><text x="463.54" y="367.53" fill="#4040d4" stroke="#4040d4" text-anchor="start" dominant-baseline="central" transform="rotate(-321.8 463.54 367.53)">TcasOr105</text><text x="465.61" y="364.84" fill="#4040d4" stroke="#4040d4" text-anchor="start" dominant-baseline="central" transform="rotate(-322.76 465.61 364.84)">TcasOr152</text><text x="467.64" y="362.12" fill="#4040d4" stroke="#4040d4" text-anchor="start" dominant-baseline="central" transform="rotate(-323.72 467.64 362.12)">TcasOr235</text><text x="469.63" y="359.37" fill="#4040d4" stroke="#4040d4" text-anchor="start" dominant-baseline="central" transform="rotate(-324.68 469.63 359.37)">TcasOr192</text><text x="471.57" y="356.59" fill="#4040d4" stroke="#4040d4" text-anchor="start" dominant-baseline="central" transform="rotate(-325.63 471.57 356.59)">TcasOr137</text><text x="473.46" y="353.77" fill="#4040d4" stroke="#4040d4" text-anchor="start" dominant-baseline="central" transform="rotate(-326.59 473.46 353.77)">TcasOr276</text><text x="475.3" y="350.92" fill="#4040d4" stroke="#4040d4" text-anchor="start" dominant-baseline="central" transform="rotate(-327.55 475.3 350.92)">TcasOr239</text><text x="477.1" y="348.04" fill="#4040d4" stroke="#4040d4" text-anchor="start" dominant-baseline="central" transform="rotate(-328.51 477.1 348.04)">TcasOr106</text><text x="478.85" y="345.13" fill="#4040d4" stroke="#4040d4" text-anchor="start" dominant-baseline="central" transform="rotate(-329.47 478.85 345.13)">TcasOr294</text><text x="480.55" y="342.19" fill="#4040d4" stroke="#4040d4" text-anchor="start" dominant-baseline="central" transform="rotate(-330.42 480.55 342.19)">TcasOr235</text><text x="482.2" y="339.23" fill="#4040d4" stroke="#4040d4" text-anchor="start" dominant-baseline="central" transform="rotate(-331.38 482.2 339.23)">TcasOr176</text><text x="483.8" y="336.24" fill="#4040d4" stroke="#4040d4" text-anchor="start" dominant-baseline="central" transform="rotate(-332.34 483.8 336.24)">TcasOr264</text><text x="485.35" y="333.22" fill="#4040d4" stroke="#4040d4" text-anchor="start" dominant-baseline="central" transform="rotate(-333.3 485.35 333.22)">TcasOr123</text><text x="486.85" y="330.17" fill="#4040d4" stroke="#4040d4" text-anchor="start" dominant-baseline="central" transform="rotate(-334.26 486.85 330.17)">TcasOr278</text><text x="488.3" y="327.1" fill="#4040d4" stroke="#4040d4" text-anchor="start" dominant-baseline="central" transform="rotate(-335.21 488.3 327.1)">TcasOr166</text><text x="489.7" y="324.01" fill="#4040d4" stroke="#4040d4" text-anchor="start" dominant-baseline="central" transform="rotate(-336.17 489.7 324.01)">TcasOr232</text><text x="491.04" y="320.89" fill="#4040d4" stroke="#4040d4" text-anchor="start" dominant-baseline="central" transform="rotate(-337.13 491.04 320.89)">TcasOr193</text><text x="492.34" y="317.76" fill="#4040d4" stroke="#4040d4" text-anchor="start" dominant-baseline="central" transform="rotate(-338.09 492.34 317.76)">TcasOr142</text><text x="493.58" y="314.6" fill="#333333" stroke="#333333" text-anchor="start" dominant-baseline="central" transform="rotate(-339.05 493.58 314.6)">AmelOR38</text><text x="494.76" y="311.42" fill="#333333" stroke="#333333" text-anchor="start" dominant-baseline="central" transform="rotate(-340 494.76 311.42)">AmelOR91</text><text x="495.9" y="308.22" fill="#333333" stroke="#333333" text-anchor="start" dominant-baseline="central" transform="rotate(-340.96 495.9 308.22)">PxylOR88</text><text x="496.98" y="305" fill="#333333" stroke="#333333" text-anchor="start" dominant-baseline="central" transform="rotate(-341.92 496.98 305)">PxylOR40</text><text x="498" y="301.77" fill="#333333" stroke="#333333" text-anchor="start" dominant-baseline="central" transform="rotate(-342.88 498 301.77)">PxylOr39</text><text x="498.98" y="298.51" fill="#333333" stroke="#333333" text-anchor="start" dominant-baseline="central" transform="rotate(-343.84 498.98 298.51)">PxylOR76</text><text x="499.89" y="295.25" fill="#333333" stroke="#333333" text-anchor="start" dominant-baseline="central" transform="rotate(-344.79 499.89 295.25)">PxylOr55</text><text x="500.76" y="291.96" fill="#333333" stroke="#333333" text-anchor="start" dominant-baseline="central" transform="rotate(-345.75 500.76 291.96)">AcerOR13</text><text x="501.56" y="288.67" fill="#333333" stroke="#333333" text-anchor="start" dominant-baseline="central" transform="rotate(-346.71 501.56 288.67)">AmelOR70</text><text x="502.32" y="285.36" fill="#333333" stroke="#333333" text-anchor="start" dominant-baseline="central" transform="rotate(-347.67 502.32 285.36)">AmelOR34</text><text x="503.01" y="282.04" fill="#333333" stroke="#333333" text-anchor="start" dominant-baseline="central" transform="rotate(-348.63 503.01 282.04)">AmelOR67</text><text x="503.65" y="278.7" fill="#333333" stroke="#333333" text-anchor="start" dominant-baseline="central" transform="rotate(-349.58 503.65 278.7)">AmelOR56</text><text x="504.24" y="275.36" fill="#333333" stroke="#333333" text-anchor="start" dominant-baseline="central" transform="rotate(-350.54 504.24 275.36)">AcerOR38</text><text x="504.77" y="272.01" fill="#333333" stroke="#333333" text-anchor="start" dominant-baseline="central" transform="rotate(-351.5 504.77 272.01)">AcerOR39</text><text x="505.24" y="268.65" fill="#333333" stroke="#333333" text-anchor="start" dominant-baseline="central" transform="rotate(-352.46 505.24 268.65)">PxylOr35</text><text x="505.66" y="265.28" fill="#333333" stroke="#333333" text-anchor="start" dominant-baseline="central" transform="rotate(-353.42 505.66 265.28)">AmelOR36</text><text x="506.02" y="261.9" fill="#333333" stroke="#333333" text-anchor="start" dominant-baseline="central" transform="rotate(-354.37 506.02 261.9)">PxylOr89</text><text x="506.33" y="258.52" fill="#333333" stroke="#333333" text-anchor="start" dominant-baseline="central" transform="rotate(-355.33 506.33 258.52)">AcerOR71</text><text x="506.57" y="255.14" fill="#e03838" stroke="#e03838" text-anchor="start" dominant-baseline="central" transform="rotate(-356.29 506.57 255.14)">AgamOr54</text><text x="506.77" y="251.75" fill="#e03838" stroke="#e03838" text-anchor="start" dominant-baseline="central" transform="rotate(-357.25 506.77 251.75)">AgamOr20</text><text x="506.9" y="248.36" fill="#e03838" stroke="#e03838" text-anchor="start" dominant-baseline="central" transform="rotate(-358.21 506.9 248.36)">AgamOr25</text><text x="506.98" y="244.97" fill="#e03838" stroke="#e03838" text-anchor="start" dominant-baseline="central" transform="rotate(-359.16 506.98 244.97)">HarmOR35</text><text x="507" y="241.57" fill="#4040d4" stroke="#4040d4" text-anchor="start" dominant-baseline="central" transform="rotate(-0.12 507 241.57)">TcasOr222</text><text x="506.96" y="238.18" fill="#4040d4" stroke="#4040d4" text-anchor="start" dominant-baseline="central" transform="rotate(-1.08 506.96 238.18)">TcasOr145</text><text x="506.87" y="234.78" fill="#4040d4" stroke="#4040d4" text-anchor="start" dominant-baseline="central" transform="rotate(-2.04 506.87 234.78)">TcasOr211</text><text x="506.72" y="231.39" fill="#4040d4" stroke="#4040d4" text-anchor="start" dominant-baseline="central" transform="rotate(-2.99 506.72 231.39)">TcasOr262</text><text x="506.52" y="228.01" fill="#4040d4" stroke="#4040d4" text-anchor="start" dominant-baseline="central" transform="rotate(-3.95 506.52 228.01)">TcasOr185</text><text x="506.25" y="224.62" fill="#4040d4" stroke="#4040d4" text-anchor="start" dominant-baseline="central" transform="rotate(-4.91 506.25 224.62)">TcasOr122</text><text x="505.94" y="221.24" fill="#4040d4" stroke="#4040d4" text-anchor="start" dominant-baseline="central" transform="rotate(-5.87 505.94 221.24)">TcasOr284</text><text x="505.56" y="217.87" fill="#4040d4" stroke="#4040d4" text-anchor="start" dominant-baseline="central" transform="rotate(-6.83 505.56 217.87)">TcasOr201</text><text x="505.13" y="214.5" fill="#4040d4" stroke="#4040d4" text-anchor="start" dominant-baseline="central" transform="rotate(-7.78 505.13 214.5)">TcasOr218</text><text x="504.64" y="211.14" fill="#333333" stroke="#333333" text-anchor="start" dominant-baseline="central" transform="rotate(-8.74 504.64 211.14)">PxylOr20</text><text x="504.1" y="207.79" fill="#333333" stroke="#333333" text-anchor="start" dominant-baseline="central" transform="rotate(-9.7 504.1 207.79)">PxylOR31</text><text x="503.5" y="204.45" fill="#333333" stroke="#333333" text-anchor="start" dominant-baseline="central" transform="rotate(-10.66 503.5 204.45)">PxylOR13</text><text x="502.84" y="201.12" fill="#333333" stroke="#333333" text-anchor="start" dominant-baseline="central" transform="rotate(-11.62 502.84 201.12)">PxylOR85</text><text x="502.13" y="197.81" fill="#333333" stroke="#333333" text-anchor="start" dominant-baseline="central" transform="rotate(-12.57 502.13 197.81)">PxylOr93</text><text x="501.36" y="194.5" fill="#4040d4" stroke="#4040d4" text-anchor="start" dominant-baseline="central" transform="rotate(-13.53 501.36 194.5)">TcasOr137</text><text x="500.54" y="191.21" fill="#4040d4" stroke="#4040d4" text-anchor="start" dominant-baseline="central" transform="rotate(-14.49 500.54 191.21)">TcasOr256</text><text x="499.67" y="187.93" fill="#4040d4" stroke="#4040d4" text-anchor="start" dominant-baseline="central" transform="rotate(-15.45 499.67 187.93)">TcasOr252</text><text x="498.73" y="184.66" fill="#4040d4" stroke="#4040d4" text-anchor="start" dominant-baseline="central" transform="rotate(-16.41 498.73 184.66)">TcasOr221</text><text x="497.75" y="181.42" fill="#4040d4" stroke="#4040d4" text-anchor="start" dominant-baseline="central" transform="rotate(-17.36 497.75 181.42)">TcasOr268</text><text x="496.71" y="178.19" fill="#4040d4" stroke="#4040d4" text-anchor="start" dominant-baseline="central" transform="rotate(-18.32 496.71 178.19)">TcasOr189</text><text x="495.61" y="174.97" fill="#4040d4" stroke="#4040d4" text-anchor="start" dominant-baseline="central" transform="rotate(-19.28 495.61 174.97)">TcasOr139</text><text x="494.47" y="171.78" fill="#4040d4" stroke="#4040d4" text-anchor="start" dominant-baseline="central" transform="rotate(-20.24 494.47 171.78)">TcasOr240</text><text x="493.27" y="168.6" fill="#4040d4" stroke="#4040d4" text-anchor="start" dominant-baseline="central" transform="rotate(-21.2 493.27 168.6)">TcasOr240</text><text x="492.01" y="165.45" fill="#4040d4" stroke="#4040d4" text-anchor="start" dominant-baseline="central" transform="rotate(-22.15 492.01 165.45)">TcasOr133</text><text x="490.71" y="162.32" fill="#4040d4" stroke="#4040d4" text-anchor="start" dominant-baseline="central" transform="rotate(-23.11 490.71 162.32)">TcasOr105</text><text x="489.35" y="159.21" fill="#4040d4" stroke="#4040d4" text-anchor="start" dominant-baseline="central" transform="rotate(-24.07 489.35 159.21)">TcasOr103</text><text x="487.94" y="156.12" fill="#4040d4" stroke="#4040d4" text-anchor="start" dominant-baseline="central" transform="rotate(-25.03 487.94 156.12)">TcasOr285</text><text x="486.48" y="153.06" fill="#4040d4" stroke="#4040d4" text-anchor="start" dominant-baseline="central" transform="rotate(-25.99 486.48 153.06)">TcasOr266</text><text x="484.96" y="150.02" fill="#4040d4" stroke="#4040d4" text-anchor="start" dominant-baseline="central" transform="rotate(-26.94 484.96 150.02)">TcasOr126</text><text x="483.4" y="147.01" fill="#4040d4" stroke="#4040d4" text-anchor="start" dominant-baseline="central" transform="rotate(-27.9 483.4 147.01)">TcasOr234</text><text x="481.79" y="144.02" fill="#4040d4" stroke="#4040d4" text-anchor="start" dominant-baseline="central" transform="rotate(-28.86 481.79 144.02)">TcasOr291</text><text x="480.13" y="141.06" fill="#4040d4" stroke="#4040d4" text-anchor="start" dominant-baseline="central" transform="rotate(-29.82 480.13 141.06)">TcasOr135</text><text x="478.41" y="138.13" fill="#4040d4" stroke="#4040d4" text-anchor="start" dominant-baseline="central" transform="rotate(-30.78 478.41 138.13)">TcasOr211</text><text x="476.65" y="135.23" fill="#4040d4" stroke="#4040d4" text-anchor="start" dominant-baseline="central" transform="rotate(-31.73 476.65 135.23)">TcasOr149</text><text x="474.84" y="132.36" fill="#4040d4" stroke="#4040d4" text-anchor="start" dominant-baseline="central" transform="rotate(-32.69 474.84 132.36)">TcasOr154</text><text x="472.99" y="129.52" fill="#4040d4" stroke="#4040d4" text-anchor="start" dominant-baseline="central" transform="rotate(-33.65 472.99 129.52)">TcasOr107</text><text x="471.08" y="126.71" fill="#4040d4" stroke="#4040d4" text-anchor="start" dominant-baseline="central" transform="rotate(-34.61 471.08 126.71)">TcasOr164</text><text x="469.13" y="123.93" fill="#4040d4" stroke="#4040d4" text-anchor="start" dominant-baseline="central" transform="rotate(-35.57 469.13 123.93)">TcasOr154</text><text x="467.13" y="121.18" fill="#4040d4" stroke="#4040d4" text-anchor="start" dominant-baseline="central" transform="rotate(-36.52 467.13 121.18)">TcasOr174</text><text x="465.09" y="118.47" fill="#4040d4" stroke="#4040d4" text-anchor="start" dominant-baseline="central" transform="rotate(-37.48 465.09 118.47)">TcasOr228</text><text x="463" y="115.8" fill="#4040d4" stroke="#4040d4" text-anchor="start" dominant-baseline="central" transform="rotate(-38.44 463 115.8)">TcasOr161</text><text x="460.87" y="113.16" fill="#4040d4" stroke="#4040d4" text-anchor="start" dominant-baseline="central" transform="rotate(-39.4 460.87 113.16)">TcasOr295</text><text x="458.7" y="110.55" fill="#4040d4" stroke="#4040d4" text-anchor="start" dominant-baseline="central" transform="rotate(-40.35 458.7 110.55)">TcasOr250</text><text x="456.48" y="107.99" fill="#4040d4" stroke="#4040d4" text-anchor="start" dominant-baseline="central" transform="rotate(-41.31 456.48 107.99)">TcasOr183</text><text x="454.21" y="105.45" fill="#4040d4" stroke="#4040d4" text-anchor="start" dominant-baseline="central" transform="rotate(-42.27 454.21 105.45)">TcasOr166</text><text x="451.91" y="102.96" fill="#4040d4" stroke="#4040d4" text-anchor="start" dominant-baseline="central" transform="rotate(-43.23 451.91 102.96)">TcasOr239</text><text x="449.57" y="100.51" fill="#333333" stroke="#333333" text-anchor="start" dominant-baseline="central" transform="rotate(-44.19 449.57 100.51)">PxylOr26</text><text x="447.18" y="98.1" fill="#4040d4" stroke="#4040d4" text-anchor="start" dominant-baseline="central" transform="rotate(-45.14 447.18 98.1)">TcasOr115</text><text x="444.75" y="95.72" fill="#333333" stroke="#333333" text-anchor="start" dominant-baseline="central" transform="rotate(-46.1 444.75 95.72)">AmelOR68</text><text x="442.29" y="93.39" fill="#333333" stroke="#333333" text-anchor="start" dominant-baseline="central" transform="rotate(-47.06 442.29 93.39)">PxylOr74</text><text x="439.78" y="91.1" fill="#e03838" stroke="#e03838" text-anchor="start" dominant-baseline="central" transform="rotate(-48.02 439.78 91.1)">AaegOr78</text><text x="437.24" y="88.85" fill="#e03838" stroke="#e03838" text-anchor="start" dominant-baseline="central" transform="rotate(-48.98 437.24 88.85)">AaegOr77</text><text x="434.66" y="86.64" fill="#e03838" stroke="#e03838" text-anchor="start" dominant-baseline="central" transform="rotate(-49.93 434.66 86.64)">AgamOr12</text><text x="432.05" y="84.48" fill="#333333" stroke="#333333" text-anchor="start" dominant-baseline="central" transform="rotate(-50.89 432.05 84.48)">PxylOr33</text><text x="429.4" y="82.36" fill="#e03838" stroke="#e03838" text-anchor="start" dominant-baseline="central" transform="rotate(-51.85 429.4 82.36)">AgamOr10</text><text x="426.71" y="80.29" fill="#e03838" stroke="#e03838" text-anchor="start" dominant-baseline="central" transform="rotate(-52.81 426.71 80.29)">AaegOr32</text><text x="423.99" y="78.26" fill="#e03838" stroke="#e03838" text-anchor="start" dominant-baseline="central" transform="rotate(-53.77 423.99 78.26)">AaegOr70</text><text x="421.23" y="76.27" fill="#4040d4" stroke="#4040d4" text-anchor="start" dominant-baseline="central" transform="rotate(-54.72 421.23 76.27)">TcasOr258</text><text x="418.45" y="74.34" fill="#4040d4" stroke="#4040d4" text-anchor="start" dominant-baseline="central" transform="rotate(-55.68 418.45 74.34)">TcasOr285</text><text x="415.63" y="72.45" fill="#4040d4" stroke="#4040d4" text-anchor="start" dominant-baseline="central" transform="rotate(-56.64 415.63 72.45)">TcasOr130</text><text x="412.78" y="70.61" fill="#4040d4" stroke="#4040d4" text-anchor="start" dominant-baseline="central" transform="rotate(-57.6 412.78 70.61)">TcasOr242</text><text x="409.9" y="68.81" fill="#4040d4" stroke="#4040d4" text-anchor="start" dominant-baseline="central" transform="rotate(-58.56 409.9 68.81)">TcasOr115</text><text x="406.99" y="67.06" fill="#4040d4" stroke="#4040d4" text-anchor="start" dominant-baseline="central" transform="rotate(-59.51 406.99 67.06)">TcasOr183</text><text x="404.05" y="65.37" fill="#4040d4" stroke="#4040d4" text-anchor="start" dominant-baseline="central" transform="rotate(-60.47 404.05 65.37)">TcasOr274</text><text x="401.08" y="63.72" fill="#4040d4" stroke="#4040d4" text-anchor="start" dominant-baseline="central" transform="rotate(-61.43 401.08 63.72)">TcasOr232</text><text x="398.09" y="62.12" fill="#333333" stroke="#333333" text-anchor="start" dominant-baseline="central" transform="rotate(-62.39 398.09 62.12)">PxylOr23</text><text x="395.07" y="60.57" fill="#4040d4" stroke="#4040d4" text-anchor="start" dominant-baseline="central" transform="rotate(-63.35 395.07 60.57)">TcasOr243</text><text x="392.02" y="59.08" fill="#4040d4" stroke="#4040d4" text-anchor="start" dominant-baseline="central" transform="rotate(-64.3 392.02 59.08)">TcasOr114</text><text x="388.95" y="57.63" fill="#4040d4" stroke="#4040d4" text-anchor="start" dominant-baseline="central" transform="rotate(-65.26 388.95 57.63)">TcasOr163</text><text x="385.86" y="56.24" fill="#4040d4" stroke="#4040d4" text-anchor="start" dominant-baseline="central" transform="rotate(-66.22 385.86 56.24)">TcasOr148</text><text x="382.74" y="54.89" fill="#4040d4" stroke="#4040d4" text-anchor="start" dominant-baseline="central" transform="rotate(-67.18 382.74 54.89)">TcasOr170</text><text x="379.6" y="53.6" fill="#4040d4" stroke="#4040d4" text-anchor="start" dominant-baseline="central" transform="rotate(-68.14 379.6 53.6)">TcasOr110</text><text x="376.44" y="52.36" fill="#4040d4" stroke="#4040d4" text-anchor="start" dominant-baseline="central" transform="rotate(-69.09 376.44 52.36)">TcasOr297</text><text x="373.26" y="51.18" fill="#4040d4" stroke="#4040d4" text-anchor="start" dominant-baseline="central" transform="rotate(-70.05 373.26 51.18)">TcasOr276PSE</text><text x="370.06" y="50.05" fill="#4040d4" stroke="#4040d4" text-anchor="start" dominant-baseline="central" transform="rotate(-71.01 370.06 50.05)">TcasOr229</text><text x="366.84" y="48.97" fill="#4040d4" stroke="#4040d4" text-anchor="start" dominant-baseline="central" transform="rotate(-71.97 366.84 48.97)">TcasOr215</text><text x="363.6" y="47.95" fill="#4040d4" stroke="#4040d4" text-anchor="start" dominant-baseline="central" transform="rotate(-72.93 363.6 47.95)">TcasOr243</text><text x="360.35" y="46.98" fill="#4040d4" stroke="#4040d4" text-anchor="start" dominant-baseline="central" transform="rotate(-73.88 360.35 46.98)">TcasOr107</text><text x="357.08" y="46.06" fill="#4040d4" stroke="#4040d4" text-anchor="start" dominant-baseline="central" transform="rotate(-74.84 357.08 46.06)">TcasOr294</text><text x="353.8" y="45.2" fill="#4040d4" stroke="#4040d4" text-anchor="start" dominant-baseline="central" transform="rotate(-75.8 353.8 45.2)">TcasOr116</text><text x="350.5" y="44.4" fill="#4040d4" stroke="#4040d4" text-anchor="start" dominant-baseline="central" transform="rotate(-76.76 350.5 44.4)">TcasOr213</text><text x="347.19" y="43.65" fill="#4040d4" stroke="#4040d4" text-anchor="start" dominant-baseline="central" transform="rotate(-77.72 347.19 43.65)">TcasOr183</text><text x="343.87" y="42.95" fill="#4040d4" stroke="#4040d4" text-anchor="start" dominant-baseline="central" transform="rotate(-78.67 343.87 42.95)">TcasOr256</text><text x="340.54" y="42.32" fill="#4040d4" stroke="#4040d4" text-anchor="start" dominant-baseline="central" transform="rotate(-79.63 340.54 42.32)">TcasOr229</text><text x="337.19" y="41.73" fill="#4040d4" stroke="#4040d4" text-anchor="start" dominant-baseline="central" transform="rotate(-80.59 337.19 41.73)">TcasOr255</text><text x="333.84" y="41.21" fill="#4040d4" stroke="#4040d4" text-anchor="start" dominant-baseline="central" transform="rotate(-81.55 333.84 41.21)">TcasOr231</text><text x="330.48" y="40.73" fill="#4040d4" stroke="#4040d4" text-anchor="start" dominant-baseline="central" transform="rotate(-82.5 330.48 40.73)">TcasOr151</text><text x="327.11" y="40.32" fill="#4040d4" stroke="#4040d4" text-anchor="start" dominant-baseline="central" transform="rotate(-83.46 327.11 40.32)">TcasOr277</text><text x="323.74" y="39.96" fill="#4040d4" stroke="#4040d4" text-anchor="start" dominant-baseline="central" transform="rotate(-84.42 323.74 39.96)">TcasOr170</text><text x="320.36" y="39.66" fill="#4040d4" stroke="#4040d4" text-anchor="start" dominant-baseline="central" transform="rotate(-85.38 320.36 39.66)">TcasOr215</text><text x="316.97" y="39.41" fill="#4040d4" stroke="#4040d4" text-anchor="start" dominant-baseline="central" transform="rotate(-86.34 316.97 39.41)">TcasOr146PSE</text><text x="313.58" y="39.23" fill="#4040d4" stroke="#4040d4" text-anchor="start" dominant-baseline="central" transform="rotate(-87.29 313.58 39.23)">TcasOr236</text><text x="310.19" y="39.09" fill="#4040d4" stroke="#4040d4" text-anchor="start" dominant-baseline="central" transform="rotate(-88.25 310.19 39.09)">TcasOr222</text><text x="306.8" y="39.02" fill="#4040d4" stroke="#4040d4" text-anchor="start" dominant-baseline="central" transform="rotate(-89.21 306.8 39.02)">TcasOr229</text><text x="303.4" y="39" fill="#4040d4" stroke="#4040d4" text-anchor="end" dominant-baseline="central" transform="rotate(89.83 303.4 39)">TcasOr163</text><text x="300.01" y="39.04" fill="#4040d4" stroke="#4040d4" text-anchor="end" dominant-baseline="central" transform="rotate(88.87 300.01 39.04)">TcasOr278</text><text x="296.62" y="39.13" fill="#4040d4" stroke="#4040d4" text-anchor="end" dominant-baseline="central" transform="rotate(87.92 296.62 39.13)">TcasOr233</text><text x="293.23" y="39.29" fill="#4040d4" stroke="#4040d4" text-anchor="end" dominant-baseline="central" transform="rotate(86.96 293.23 39.29)">TcasOr208PSE</text><text x="289.84" y="39.49" fill="#4040d4" stroke="#4040d4" text-anchor="end" dominant-baseline="central" transform="rotate(86 289.84 39.49)">TcasOr243</text><text x="286.45" y="39.76" fill="#4040d4" stroke="#4040d4" text-anchor="end" dominant-baseline="central" transform="rotate(85.04 286.45 39.76)">TcasOr151</text><text x="283.08" y="40.08" fill="#4040d4" stroke="#4040d4" text-anchor="end" dominant-baseline="central" transform="rotate(84.08 283.08 40.08)">TcasOr214</text><text x="279.7" y="40.46" fill="#4040d4" stroke="#4040d4" text-anchor="end" dominant-baseline="central" transform="rotate(83.13 279.7 40.46)">TcasOr135</text><text x="276.34" y="40.89" fill="#4040d4" stroke="#4040d4" text-anchor="end" dominant-baseline="central" transform="rotate(82.17 276.34 40.89)">TcasOr206</text><text x="272.98" y="41.38" fill="#4040d4" stroke="#4040d4" text-anchor="end" dominant-baseline="central" transform="rotate(81.21 272.98 41.38)">TcasOr131</text><text x="269.63" y="41.93" fill="#4040d4" stroke="#4040d4" text-anchor="end" dominant-baseline="central" transform="rotate(80.25 269.63 41.93)">TcasOr200</text><text x="266.29" y="42.53" fill="#4040d4" stroke="#4040d4" text-anchor="end" dominant-baseline="central" transform="rotate(79.29 266.29 42.53)">TcasOr213</text><text x="262.96" y="43.19" fill="#4040d4" stroke="#4040d4" text-anchor="end" dominant-baseline="central" transform="rotate(78.34 262.96 43.19)">TcasOr180</text><text x="259.64" y="43.91" fill="#4040d4" stroke="#4040d4" text-anchor="end" dominant-baseline="central" transform="rotate(77.38 259.64 43.91)">TcasOr118</text><text x="256.34" y="44.68" fill="#4040d4" stroke="#4040d4" text-anchor="end" dominant-baseline="central" transform="rotate(76.42 256.34 44.68)">TcasOr271</text><text x="253.04" y="45.5" fill="#4040d4" stroke="#4040d4" text-anchor="end" dominant-baseline="central" transform="rotate(75.46 253.04 45.5)">TcasOr161</text><text x="249.77" y="46.38" fill="#4040d4" stroke="#4040d4" text-anchor="end" dominant-baseline="central" transform="rotate(74.5 249.77 46.38)">TcasOr209</text><text x="246.5" y="47.31" fill="#4040d4" stroke="#4040d4" text-anchor="end" dominant-baseline="central" transform="rotate(73.55 246.5 47.31)">TcasOr118</text><text x="243.26" y="48.3" fill="#4040d4" stroke="#4040d4" text-anchor="end" dominant-baseline="central" transform="rotate(72.59 243.26 48.3)">TcasOr154</text><text x="240.03" y="49.34" fill="#4040d4" stroke="#4040d4" text-anchor="end" dominant-baseline="central" transform="rotate(71.63 240.03 49.34)">TcasOr271</text><text x="236.81" y="50.44" fill="#4040d4" stroke="#4040d4" text-anchor="end" dominant-baseline="central" transform="rotate(70.67 236.81 50.44)">TcasOr177</text><text x="233.62" y="51.59" fill="#4040d4" stroke="#4040d4" text-anchor="end" dominant-baseline="central" transform="rotate(69.71 233.62 51.59)">TcasOr131</text><text x="230.45" y="52.79" fill="#4040d4" stroke="#4040d4" text-anchor="end" dominant-baseline="central" transform="rotate(68.76 230.45 52.79)">TcasOr298</text><text x="227.29" y="54.05" fill="#4040d4" stroke="#4040d4" text-anchor="end" dominant-baseline="central" transform="rotate(67.8 227.29 54.05)">TcasOr139</text><text x="224.16" y="55.36" fill="#4040d4" stroke="#4040d4" text-anchor="end" dominant-baseline="central" transform="rotate(66.84 224.16 55.36)">TcasOr118PSE</text><text x="221.05" y="56.72" fill="#4040d4" stroke="#4040d4" text-anchor="end" dominant-baseline="central" transform="rotate(65.88 221.05 56.72)">TcasOr264</text><text x="217.97" y="58.13" fill="#4040d4" stroke="#4040d4" text-anchor="end" dominant-baseline="central" transform="rotate(64.92 217.97 58.13)">TcasOr269</text><text x="214.91" y="59.6" fill="#4040d4" stroke="#4040d4" text-anchor="end" dominant-baseline="central" transform="rotate(63.97 214.91 59.6)">TcasOr193</text><text x="211.87" y="61.11" fill="#4040d4" stroke="#4040d4" text-anchor="end" dominant-baseline="central" transform="rotate(63.01 211.87 61.11)">TcasOr136</text><text x="208.86" y="62.68" fill="#4040d4" stroke="#4040d4" text-anchor="end" dominant-baseline="central" transform="rotate(62.05 208.86 62.68)">TcasOr164</text><text x="205.87" y="64.29" fill="#4040d4" stroke="#4040d4" text-anchor="end" dominant-baseline="central" transform="rotate(61.09 205.87 64.29)">TcasOr135</text><text x="202.91" y="65.96" fill="#4040d4" stroke="#4040d4" text-anchor="end" dominant-baseline="central" transform="rotate(60.14 202.91 65.96)">TcasOr219</text><text x="199.99" y="67.67" fill="#4040d4" stroke="#4040d4" text-anchor="end" dominant-baseline="central" transform="rotate(59.18 199.99 67.67)">TcasOr156</text><text x="197.09" y="69.44" fill="#4040d4" stroke="#4040d4" text-anchor="end" dominant-baseline="central" transform="rotate(58.22 197.09 69.44)">TcasOr291</text><text x="194.22" y="71.25" fill="#4040d4" stroke="#4040d4" text-anchor="end" dominant-baseline="central" transform="rotate(57.26 194.22 71.25)">TcasOr168PSE</text><text x="191.38" y="73.11" fill="#4040d4" stroke="#4040d4" text-anchor="end" dominant-baseline="central" transform="rotate(56.3 191.38 73.11)">TcasOr201</text><text x="188.57" y="75.01" fill="#4040d4" stroke="#4040d4" text-anchor="end" dominant-baseline="central" transform="rotate(55.35 188.57 75.01)">TcasOr224</text><text x="185.79" y="76.97" fill="#4040d4" stroke="#4040d4" text-anchor="end" dominant-baseline="central" transform="rotate(54.39 185.79 76.97)">TcasOr141</text><text x="183.05" y="78.97" fill="#4040d4" stroke="#4040d4" text-anchor="end" dominant-baseline="central" transform="rotate(53.43 183.05 78.97)">TcasOr270</text><text x="180.34" y="81.01" fill="#4040d4" stroke="#4040d4" text-anchor="end" dominant-baseline="central" transform="rotate(52.47 180.34 81.01)">TcasOr157</text><text x="177.67" y="83.1" fill="#4040d4" stroke="#4040d4" text-anchor="end" dominant-baseline="central" transform="rotate(51.51 177.67 83.1)">TcasOr141</text><text x="175.03" y="85.24" fill="#4040d4" stroke="#4040d4" text-anchor="end" dominant-baseline="central" transform="rotate(50.56 175.03 85.24)">TcasOr280</text><text x="172.43" y="87.41" fill="#4040d4" stroke="#4040d4" text-anchor="end" dominant-baseline="central" transform="rotate(49.6 172.43 87.41)">TcasOr210</text><text x="169.86" y="89.63" fill="#4040d4" stroke="#4040d4" text-anchor="end" dominant-baseline="central" transform="rotate(48.64 169.86 89.63)">TcasOr231</text><text x="167.33" y="91.9" fill="#4040d4" stroke="#4040d4" text-anchor="end" dominant-baseline="central" transform="rotate(47.68 167.33 91.9)">TcasOr203</text><text x="164.84" y="94.2" fill="#4040d4" stroke="#4040d4" text-anchor="end" dominant-baseline="central" transform="rotate(46.72 164.84 94.2)">TcasOr186</text><text x="162.39" y="96.55" fill="#4040d4" stroke="#4040d4" text-anchor="end" dominant-baseline="central" transform="rotate(45.77 162.39 96.55)">TcasOr207</text><text x="159.98" y="98.94" fill="#4040d4" stroke="#4040d4" text-anchor="end" dominant-baseline="central" transform="rotate(44.81 159.98 98.94)">TcasOr150</text><text x="157.61" y="101.37" fill="#4040d4" stroke="#4040d4" text-anchor="end" dominant-baseline="central" transform="rotate(43.85 157.61 101.37)">TcasOr191</text><text x="155.27" y="103.83" fill="#4040d4" stroke="#4040d4" text-anchor="end" dominant-baseline="central" transform="rotate(42.89 155.27 103.83)">TcasOr181</text><text x="152.99" y="106.34" fill="#4040d4" stroke="#4040d4" text-anchor="end" dominant-baseline="central" transform="rotate(41.93 152.99 106.34)">TcasOr123</text><text x="150.74" y="108.88" fill="#4040d4" stroke="#4040d4" text-anchor="end" dominant-baseline="central" transform="rotate(40.98 150.74 108.88)">TcasOr284</text><text x="148.53" y="111.47" fill="#4040d4" stroke="#4040d4" text-anchor="end" dominant-baseline="central" transform="rotate(40.02 148.53 111.47)">TcasOr104PSE</text><text x="146.37" y="114.08" fill="#4040d4" stroke="#4040d4" text-anchor="end" dominant-baseline="central" transform="rotate(39.06 146.37 114.08)">TcasOr104</text><text x="144.26" y="116.74" fill="#4040d4" stroke="#4040d4" text-anchor="end" dominant-baseline="central" transform="rotate(38.1 144.26 116.74)">TcasOr186</text><text x="142.18" y="119.42" fill="#4040d4" stroke="#4040d4" text-anchor="end" dominant-baseline="central" transform="rotate(37.14 142.18 119.42)">TcasOr262PSE</text><text x="140.16" y="122.15" fill="#4040d4" stroke="#4040d4" text-anchor="end" dominant-baseline="central" transform="rotate(36.19 140.16 122.15)">TcasOr217</text><text x="138.18" y="124.9" fill="#4040d4" stroke="#4040d4" text-anchor="end" dominant-baseline="central" transform="rotate(35.23 138.18 124.9)">TcasOr212</text><text x="136.24" y="127.69" fill="#4040d4" stroke="#4040d4" text-anchor="end" dominant-baseline="central" transform="rotate(34.27 136.24 127.69)">TcasOr280</text><text x="134.36" y="130.51" fill="#4040d4" stroke="#4040d4" text-anchor="end" dominant-baseline="central" transform="rotate(33.31 134.36 130.51)">TcasOr122PSE</text><text x="132.52" y="133.36" fill="#4040d4" stroke="#4040d4" text-anchor="end" dominant-baseline="central" transform="rotate(32.35 132.52 133.36)">TcasOr198</text><text x="130.72" y="136.25" fill="#4040d4" stroke="#4040d4" text-anchor="end" dominant-baseline="central" transform="rotate(31.4 130.72 136.25)">TcasOr184</text><text x="128.98" y="139.16" fill="#4040d4" stroke="#4040d4" text-anchor="end" dominant-baseline="central" transform="rotate(30.44 128.98 139.16)">TcasOr232</text><text x="127.28" y="142.1" fill="#4040d4" stroke="#4040d4" text-anchor="end" dominant-baseline="central" transform="rotate(29.48 127.28 142.1)">TcasOr259</text><text x="125.64" y="145.07" fill="#4040d4" stroke="#4040d4" text-anchor="end" dominant-baseline="central" transform="rotate(28.52 125.64 145.07)">TcasOr175</text><text x="124.04" y="148.06" fill="#4040d4" stroke="#4040d4" text-anchor="end" dominant-baseline="central" transform="rotate(27.56 124.04 148.06)">TcasOr231</text><text x="122.5" y="151.08" fill="#4040d4" stroke="#4040d4" text-anchor="end" dominant-baseline="central" transform="rotate(26.61 122.5 151.08)">TcasOr166PSE</text><text x="121" y="154.13" fill="#4040d4" stroke="#4040d4" text-anchor="end" dominant-baseline="central" transform="rotate(25.65 121 154.13)">TcasOr128</text><text x="119.56" y="157.2" fill="#4040d4" stroke="#4040d4" text-anchor="end" dominant-baseline="central" transform="rotate(24.69 119.56 157.2)">TcasOr158</text><text x="118.17" y="160.3" fill="#4040d4" stroke="#4040d4" text-anchor="end" dominant-baseline="central" transform="rotate(23.73 118.17 160.3)">TcasOr126</text><text x="116.83" y="163.42" fill="#4040d4" stroke="#4040d4" text-anchor="end" dominant-baseline="central" transform="rotate(22.77 116.83 163.42)">TcasOr121PSE</text><text x="115.54" y="166.56" fill="#4040d4" stroke="#4040d4" text-anchor="end" dominant-baseline="central" transform="rotate(21.82 115.54 166.56)">TcasOr167</text><text x="114.3" y="169.72" fill="#4040d4" stroke="#4040d4" text-anchor="end" dominant-baseline="central" transform="rotate(20.86 114.3 169.72)">TcasOr169</text><text x="113.12" y="172.9" fill="#4040d4" stroke="#4040d4" text-anchor="end" dominant-baseline="central" transform="rotate(19.9 113.12 172.9)">TcasOr110</text><text x="111.99" y="176.1" fill="#4040d4" stroke="#4040d4" text-anchor="end" dominant-baseline="central" transform="rotate(18.94 111.99 176.1)">TcasOr299</text><text x="110.92" y="179.32" fill="#4040d4" stroke="#4040d4" text-anchor="end" dominant-baseline="central" transform="rotate(17.99 110.92 179.32)">TcasOr146</text><text x="109.9" y="182.56" fill="#4040d4" stroke="#4040d4" text-anchor="end" dominant-baseline="central" transform="rotate(17.03 109.9 182.56)">TcasOr169</text><text x="108.93" y="185.81" fill="#4040d4" stroke="#4040d4" text-anchor="end" dominant-baseline="central" transform="rotate(16.07 108.93 185.81)">TcasOr255PSE</text><text x="108.02" y="189.08" fill="#4040d4" stroke="#4040d4" text-anchor="end" dominant-baseline="central" transform="rotate(15.11 108.02 189.08)">TcasOr133</text><text x="107.16" y="192.36" fill="#4040d4" stroke="#4040d4" text-anchor="end" dominant-baseline="central" transform="rotate(14.15 107.16 192.36)">TcasOr208</text><text x="106.36" y="195.66" fill="#4040d4" stroke="#4040d4" text-anchor="end" dominant-baseline="central" transform="rotate(13.2 106.36 195.66)">TcasOr273</text><text x="105.61" y="198.97" fill="#4040d4" stroke="#4040d4" text-anchor="end" dominant-baseline="central" transform="rotate(12.24 105.61 198.97)">TcasOr166</text><text x="104.92" y="202.29" fill="#4040d4" stroke="#4040d4" text-anchor="end" dominant-baseline="central" transform="rotate(11.28 104.92 202.29)">TcasOr203</text><text x="104.29" y="205.63" fill="#4040d4" stroke="#4040d4" text-anchor="end" dominant-baseline="central" transform="rotate(10.32 104.29 205.63)">TcasOr138</text><text x="103.7" y="208.97" fill="#4040d4" stroke="#4040d4" text-anchor="end" dominant-baseline="central" transform="rotate(9.36 103.7 208.97)">TcasOr237</text><text x="103.18" y="212.33" fill="#4040d4" stroke="#4040d4" text-anchor="end" dominant-baseline="central" transform="rotate(8.41 103.18 212.33)">TcasOr231</text><text x="102.71" y="215.69" fill="#4040d4" stroke="#4040d4" text-anchor="end" dominant-baseline="central" transform="rotate(7.45 102.71 215.69)">TcasOr246</text><text x="102.3" y="219.06" fill="#4040d4" stroke="#4040d4" text-anchor="end" dominant-baseline="central" transform="rotate(6.49 102.3 219.06)">TcasOr226</text><text x="101.95" y="222.43" fill="#4040d4" stroke="#4040d4" text-anchor="end" dominant-baseline="central" transform="rotate(5.53 101.95 222.43)">TcasOr279</text><text x="101.65" y="225.81" fill="#4040d4" stroke="#4040d4" text-anchor="end" dominant-baseline="central" transform="rotate(4.57 101.65 225.81)">TcasOr183</text><text x="101.4" y="229.2" fill="#4040d4" stroke="#4040d4" text-anchor="end" dominant-baseline="central" transform="rotate(3.62 101.4 229.2)">TcasOr122</text><text x="101.22" y="232.59" fill="#4040d4" stroke="#4040d4" text-anchor="end" dominant-baseline="central" transform="rotate(2.66 101.22 232.59)">TcasOr171</text><text x="101.09" y="235.98" fill="#4040d4" stroke="#4040d4" text-anchor="end" dominant-baseline="central" transform="rotate(1.7 101.09 235.98)">TcasOr114</text></g><path d="M463.88 72.1A233.3 233.3 0 0 0 70.74 237.52M470.12 78.19A233.3 233.3 0 0 0 465.77 73.9M523.84 320.11A233.3 233.3 0 0 0 471.26 79.35M211.72 456.27A233.3 233.3 0 0 0 519.07 332.41M154.98 421.5A233.3 233.3 0 0 0 210.97 455.95M107.68 368.04A233.3 233.3 0 0 0 154.35 420.98M72.25 268.81A233.3 233.3 0 0 0 104.44 362.86M70.92 252.18A233.3 233.3 0 0 0 71.94 265.98" stroke="#000" stroke-width="2.1" fill="none"/><circle cx="523.72" cy="323.06" r="1.3" fill="#000"/><circle cx="522.13" cy="327.26" r="1.3" fill="#000"/><g font-family="Liberation Sans, Arial, sans-serif" font-weight="bold" fill="#111"><text x="100.7" y="80.0" font-size="18.5">5A</text><text x="471.5" y="72.2" font-size="10.2">5B</text><text x="520.5" y="129.3" font-size="19">3</text><text x="8.7" y="264.2" font-size="18.2" textLength="43.6" lengthAdjust="spacingAndGlyphs">Orco</text><text x="53.8" y="322.7" font-size="19">1</text><text x="94.2" y="413.2" font-size="19">7</text><text x="157.7" y="466.8" font-size="18.5">2B</text><text x="463.5" y="441.4" font-size="18.5">2A</text><text x="538.2" y="324.8" font-size="10.3">4</text><text x="533.2" y="342.7" font-size="10.6">6</text></g><path d="M536.9 321.1L527 323.5M532.2 336.5L525 329.4" stroke="#111" stroke-width="0.9"/><path d="M526.3 323.7L529.6 321.6L530.1 324.4Z M524.4 328.8L528 329.9L526.2 331.8Z" fill="#111"/><text x="139.6" y="402.6" font-family="Liberation Sans, Arial, sans-serif" font-size="10" fill="#e01818">*</text><path d="M290.9 489.5H317.3" stroke="#222" stroke-width="1"/><text x="299" y="499.2" font-family="Liberation Sans, Arial, sans-serif" font-size="7.6" fill="#222" stroke="#222" stroke-width="0.15">0.6</text></svg></body></html>
